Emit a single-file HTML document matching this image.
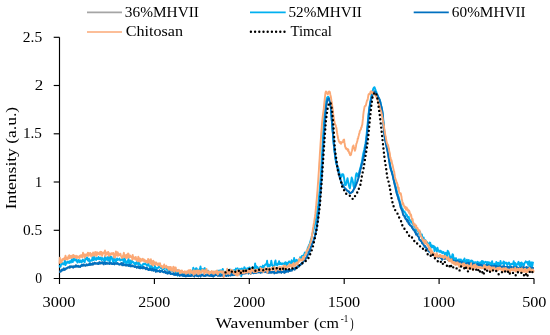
<!DOCTYPE html>
<html><head><meta charset="utf-8"><style>
html,body{margin:0;padding:0;background:#fff;}
svg{display:block;}
text{font-family:'Liberation Serif', 'DejaVu Serif', serif;font-size:15.6px;fill:#000;}
</style></head><body>
<svg width="550" height="335" viewBox="0 0 550 335">
<rect width="550" height="335" fill="#fff"/>
<!-- legend -->
<g stroke-width="1.7" fill="none">
<line x1="87" y1="12.4" x2="122" y2="12.4" stroke="#A5A5A5"/>
<line x1="250" y1="12.4" x2="285.7" y2="12.4" stroke="#00B0F0"/>
<line x1="413.7" y1="12.4" x2="448.8" y2="12.4" stroke="#0070C0"/>
<line x1="87" y1="32" x2="122" y2="32" stroke="#FBA976"/>
<line x1="250.9" y1="31.7" x2="285" y2="31.7" stroke="#000" stroke-width="2.4" stroke-linecap="round" stroke-dasharray="0 4.2"/>
</g>
<text x="124.86" y="17" textLength="74.05" lengthAdjust="spacingAndGlyphs">36%MHVII</text>
<text x="288.53" y="17" textLength="73.39" lengthAdjust="spacingAndGlyphs">52%MHVII</text>
<text x="451.87" y="17" textLength="73.85" lengthAdjust="spacingAndGlyphs">60%MHVII</text>
<text x="125.78" y="36.2" textLength="57.23" lengthAdjust="spacingAndGlyphs">Chitosan</text>
<text x="290.46" y="36.2" textLength="41.39" lengthAdjust="spacingAndGlyphs">Timcal</text>
<!-- axes -->
<g stroke="#000" stroke-width="1.15" fill="none">
<line x1="59.5" y1="37.3" x2="59.5" y2="284"/>
<line x1="53.7" y1="278.5" x2="534" y2="278.5"/>
<line x1="53.7" y1="37.3" x2="59.5" y2="37.3"/>
<line x1="53.7" y1="85.5" x2="59.5" y2="85.5"/>
<line x1="53.7" y1="133.8" x2="59.5" y2="133.8"/>
<line x1="53.7" y1="182" x2="59.5" y2="182"/>
<line x1="53.7" y1="230.3" x2="59.5" y2="230.3"/>
<line x1="154.4" y1="278.5" x2="154.4" y2="284"/>
<line x1="249.3" y1="278.5" x2="249.3" y2="284"/>
<line x1="344.2" y1="278.5" x2="344.2" y2="284"/>
<line x1="439.1" y1="278.5" x2="439.1" y2="284"/>
<line x1="534" y1="278.5" x2="534" y2="284"/>
</g>
<!-- series -->
<g fill="none" stroke-width="1.9" stroke-linejoin="round">
<path d="M59.5 271.4 59.9 271.8 60.2 271.4 60.6 271.3 60.9 271.5 61.3 270.0 61.6 270.1 62.0 269.6 62.3 270.0 62.7 270.4 63.0 269.7 63.4 269.8 63.7 268.5 64.1 269.4 64.4 268.7 64.8 269.9 65.1 269.3 65.5 269.2 65.8 268.5 66.2 268.7 66.5 268.6 66.9 268.0 67.2 267.8 67.6 267.9 67.9 267.5 68.3 267.4 68.6 267.4 69.0 267.1 69.3 267.7 69.7 266.4 70.0 267.5 70.4 266.7 70.7 266.7 71.1 266.3 71.4 266.8 71.8 266.7 72.1 266.9 72.5 266.5 72.8 266.7 73.2 267.6 73.5 266.8 73.9 266.3 74.2 267.0 74.6 266.4 74.9 266.7 75.3 266.7 75.6 266.2 76.0 265.3 76.3 266.1 76.7 266.5 77.0 266.0 77.4 266.4 77.7 266.6 78.1 265.8 78.4 266.6 78.8 266.8 79.1 266.5 79.5 266.5 79.8 266.4 80.2 266.9 80.5 265.9 80.9 265.7 81.2 266.0 81.6 265.2 81.9 264.8 82.3 265.1 82.6 265.7 83.0 265.7 83.3 264.7 83.7 264.5 84.0 265.2 84.4 265.2 84.7 265.2 85.1 265.6 85.4 265.8 85.8 265.2 86.1 265.4 86.5 264.5 86.8 264.4 87.2 265.0 87.5 265.2 87.9 265.2 88.2 265.0 88.6 265.1 88.9 265.0 89.3 263.7 89.6 264.2 90.0 264.7 90.3 264.7 90.7 263.6 91.0 264.9 91.4 264.0 91.7 264.1 92.1 264.3 92.4 264.5 92.8 263.3 93.1 264.5 93.5 263.9 93.8 263.5 94.2 263.7 94.5 262.6 94.9 263.3 95.2 263.7 95.6 263.2 95.9 263.3 96.3 263.4 96.6 263.4 97.0 263.8 97.3 263.2 97.7 263.1 98.0 263.4 98.4 264.1 98.7 262.9 99.1 263.2 99.4 262.1 99.8 263.5 100.1 263.2 100.5 263.5 100.8 262.8 101.2 262.4 101.5 263.4 101.9 263.3 102.2 262.5 102.6 262.2 102.9 263.2 103.3 263.0 103.6 264.4 104.0 262.8 104.3 262.9 104.7 263.1 105.0 262.3 105.4 262.8 105.7 264.1 106.1 263.2 106.4 263.0 106.8 262.7 107.1 263.6 107.5 263.7 107.8 263.5 108.2 263.3 108.5 263.6 108.9 263.7 109.2 263.2 109.6 263.9 109.9 262.5 110.3 263.0 110.6 263.5 111.0 263.6 111.3 263.0 111.7 263.8 112.0 264.1 112.4 263.8 112.7 263.7 113.1 264.0 113.4 263.8 113.8 263.1 114.1 263.5 114.5 264.3 114.8 263.1 115.2 263.7 115.5 263.5 115.9 263.3 116.2 263.2 116.6 263.8 116.9 263.9 117.3 263.9 117.6 263.1 118.0 263.7 118.3 264.1 118.7 264.4 119.0 264.3 119.4 264.4 119.7 264.6 120.1 264.4 120.4 263.7 120.8 264.1 121.1 263.8 121.5 263.0 121.8 263.4 122.2 265.3 122.5 263.8 122.9 263.3 123.2 264.1 123.6 265.2 123.9 264.5 124.3 264.8 124.6 264.5 125.0 264.7 125.3 265.4 125.7 265.2 126.0 264.8 126.4 265.4 126.7 265.5 127.1 265.0 127.4 265.3 127.8 265.3 128.1 264.9 128.5 265.9 128.8 265.3 129.2 265.1 129.5 264.7 129.9 264.9 130.2 266.4 130.6 265.1 130.9 266.0 131.3 265.6 131.6 266.1 132.0 266.3 132.3 265.6 132.7 265.9 133.0 266.2 133.4 266.3 133.7 266.3 134.1 266.2 134.4 266.7 134.8 267.1 135.1 266.8 135.5 266.2 135.8 266.8 136.2 266.7 136.5 267.0 136.9 267.7 137.2 266.8 137.6 266.9 137.9 266.6 138.3 266.9 138.6 266.9 139.0 268.0 139.3 267.4 139.7 267.0 140.0 268.4 140.4 266.8 140.7 268.0 141.1 268.1 141.4 267.9 141.8 267.6 142.1 267.7 142.5 267.7 142.8 268.3 143.2 266.8 143.5 267.8 143.9 268.2 144.2 267.9 144.6 267.4 144.9 268.2 145.3 268.0 145.6 268.9 146.0 269.2 146.3 268.6 146.7 267.7 147.0 268.6 147.4 268.3 147.7 269.2 148.1 269.8 148.4 269.2 148.8 270.1 149.1 269.9 149.5 269.5 149.8 268.8 150.2 269.4 150.5 268.7 150.9 270.0 151.2 269.6 151.6 270.3 151.9 269.9 152.3 268.8 152.6 270.2 153.0 270.4 153.3 270.8 153.7 269.5 154.0 269.6 154.4 270.2 154.7 269.7 155.1 269.6 155.4 269.8 155.8 271.7 156.1 270.1 156.5 270.0 156.8 270.3 157.2 270.6 157.5 271.3 157.9 271.2 158.2 271.2 158.6 270.9 158.9 271.0 159.3 270.6 159.6 270.3 160.0 272.1 160.3 270.9 160.7 271.7 161.0 271.1 161.4 271.3 161.7 271.3 162.1 270.8 162.4 271.5 162.8 271.8 163.1 272.1 163.5 272.0 163.8 272.3 164.2 272.0 164.5 271.9 164.9 271.0 165.2 271.8 165.6 272.9 165.9 272.3 166.3 272.7 166.6 272.3 167.0 272.1 167.3 273.6 167.7 272.8 168.0 273.5 168.4 273.1 168.7 272.8 169.1 271.9 169.4 273.1 169.8 272.4 170.1 272.2 170.5 274.0 170.8 273.8 171.2 273.9 171.5 273.6 171.9 273.7 172.2 274.0 172.6 273.9 172.9 274.0 173.3 274.4 173.6 272.9 174.0 274.6 174.3 273.9 174.7 274.7 175.0 274.9 175.4 274.0 175.7 274.8 176.1 274.9 176.4 274.2 176.8 274.3 177.1 274.7 177.5 273.6 177.8 274.5 178.2 274.9 178.5 274.6 178.9 274.1 179.2 274.7 179.6 275.7 179.9 275.7 180.3 275.0 180.6 274.7 181.0 275.1 181.3 275.2 181.7 274.9 182.0 275.1 182.4 275.6 182.7 275.8 183.1 274.1 183.4 275.9 183.8 275.5 184.1 276.0 184.5 275.5 184.8 275.7 185.2 276.3 185.5 274.0 185.9 276.3 186.2 275.6 186.6 274.6 186.9 274.2 187.3 275.7 187.6 275.1 188.0 276.1 188.3 275.7 188.7 275.5 189.0 276.1 189.4 275.7 189.7 276.0 190.1 276.0 190.4 275.8 190.8 276.0 191.1 276.0 191.5 274.9 191.8 275.5 192.2 275.6 192.5 275.4 192.9 274.8 193.2 275.3 193.6 275.8 193.9 275.7 194.3 276.4 194.6 275.3 195.0 275.4 195.3 275.3 195.7 275.4 196.0 275.2 196.4 274.6 196.7 275.7 197.1 276.0 197.4 276.0 197.8 274.9 198.1 275.3 198.5 276.3 198.8 275.3 199.2 275.5 199.5 275.2 199.9 275.8 200.2 275.8 200.6 276.4 200.9 275.5 201.3 275.5 201.6 274.6 202.0 275.0 202.3 274.9 202.7 275.1 203.0 274.6 203.4 275.9 203.7 274.7 204.1 275.4 204.4 274.6 204.8 275.4 205.1 276.1 205.5 274.9 205.8 275.5 206.2 275.3 206.5 275.4 206.9 275.5 207.2 275.0 207.6 275.2 207.9 275.0 208.3 274.9 208.6 274.7 209.0 275.8 209.3 275.0 209.7 275.7 210.0 275.6 210.4 274.9 210.7 275.9 211.1 275.0 211.4 275.7 211.8 276.1 212.1 275.1 212.5 275.0 212.8 275.0 213.2 276.6 213.5 275.3 213.9 274.8 214.2 275.9 214.6 275.4 214.9 275.5 215.3 275.0 215.6 274.4 216.0 275.1 216.3 274.9 216.7 274.6 217.0 274.9 217.4 274.9 217.7 275.8 218.1 275.8 218.4 275.7 218.8 275.1 219.1 274.8 219.5 275.5 219.8 275.6 220.2 275.9 220.5 275.4 220.9 275.3 221.2 275.5 221.6 274.9 221.9 274.9 222.3 275.7 222.6 274.7 223.0 275.3 223.3 275.7 223.7 275.4 224.0 275.5 224.4 274.7 224.7 275.2 225.1 275.1 225.4 275.5 225.8 275.4 226.1 275.2 226.5 276.1 226.8 275.4 227.2 275.0 227.5 274.8 227.9 275.1 228.2 274.8 228.6 275.8 228.9 275.3 229.3 274.8 229.6 274.6 230.0 274.3 230.3 274.7 230.7 275.5 231.0 275.2 231.4 274.7 231.7 274.7 232.1 273.7 232.4 275.0 232.8 274.4 233.1 275.2 233.5 274.4 233.8 274.2 234.2 274.5 234.5 274.0 234.9 274.9 235.2 274.3 235.6 274.3 235.9 274.3 236.3 273.9 236.6 274.3 237.0 274.0 237.3 274.8 237.7 273.9 238.0 274.0 238.4 273.5 238.7 273.5 239.1 273.5 239.4 274.3 239.8 273.6 240.1 274.0 240.5 273.4 240.8 273.3 241.2 272.4 241.5 273.8 241.9 274.3 242.2 273.1 242.6 273.9 242.9 273.6 243.3 272.7 243.6 273.4 244.0 272.5 244.3 272.7 244.7 273.4 245.0 272.9 245.4 272.2 245.7 273.4 246.1 272.1 246.4 272.6 246.8 272.4 247.1 272.5 247.5 272.1 247.8 271.7 248.2 273.4 248.5 272.0 248.9 272.0 249.2 271.2 249.6 272.4 249.9 273.0 250.3 273.1 250.6 273.7 251.0 273.1 251.3 272.5 251.7 272.3 252.0 273.0 252.4 272.3 252.7 272.4 253.1 271.8 253.4 272.3 253.8 273.2 254.1 272.2 254.5 272.4 254.8 271.0 255.2 272.9 255.5 272.4 255.9 272.9 256.2 272.3 256.6 271.7 256.9 271.5 257.3 272.4 257.6 272.1 258.0 271.6 258.3 272.1 258.7 271.8 259.0 272.4 259.4 271.9 259.7 271.5 260.1 272.0 260.4 271.8 260.8 272.8 261.1 271.8 261.5 271.4 261.8 272.0 262.2 271.9 262.5 272.2 262.9 272.2 263.2 271.6 263.6 272.0 263.9 272.0 264.3 271.5 264.6 271.8 265.0 272.2 265.3 271.3 265.7 271.5 266.0 271.9 266.4 272.0 266.7 272.3 267.1 271.4 267.4 272.2 267.8 272.4 268.1 272.9 268.5 271.9 268.8 271.7 269.2 271.4 269.5 272.4 269.9 272.8 270.2 271.8 270.6 272.4 270.9 272.6 271.3 272.7 271.6 272.0 272.0 272.5 272.3 272.2 272.7 271.8 273.0 272.4 273.4 272.4 273.7 271.8 274.1 272.5 274.4 273.3 274.8 271.5 275.1 272.6 275.5 272.7 275.8 272.3 276.2 272.4 276.5 272.1 276.9 272.9 277.2 271.7 277.6 272.1 277.9 271.2 278.3 272.3 278.6 272.3 279.0 271.2 279.3 271.6 279.7 272.3 280.0 271.7 280.4 271.4 280.7 270.7 281.1 272.1 281.4 272.8 281.8 271.6 282.1 272.0 282.5 272.0 282.8 271.7 283.2 271.7 283.5 271.7 283.9 271.1 284.2 272.8 284.6 272.8 284.9 271.6 285.3 272.3 285.6 270.9 286.0 271.2 286.3 271.8 286.7 270.6 287.0 270.4 287.4 271.2 287.7 270.0 288.1 271.8 288.4 271.2 288.8 270.9 289.1 271.0 289.5 270.2 289.8 270.1 290.2 270.9 290.5 270.8 290.9 270.3 291.2 270.1 291.6 269.8 291.9 270.6 292.3 269.1 292.6 269.3 293.0 269.3 293.3 268.6 293.7 268.6 294.0 268.6 294.4 269.4 294.7 269.7 295.1 268.8 295.4 267.6 295.8 267.9 296.1 267.9 296.5 267.7 296.8 267.4 297.2 267.7 297.5 266.2 297.9 266.6 298.2 266.8 298.6 266.7 298.9 266.2 299.3 265.8 299.6 265.4 300.0 264.8 300.3 264.8 300.7 264.3 301.0 263.7 301.4 264.3 301.7 263.9 302.1 262.8 302.4 262.9 302.8 262.8 303.1 261.9 303.5 261.4 303.8 261.1 304.2 259.6 304.5 259.2 304.9 259.7 305.2 259.1 305.6 259.1 305.9 257.7 306.3 257.9 306.6 257.4 307.0 257.3 307.3 255.3 307.7 254.9 308.0 254.6 308.4 253.9 308.7 252.5 309.1 252.0 309.4 250.7 309.8 251.6 310.1 249.4 310.5 248.4 310.8 247.2 311.2 246.4 311.5 245.6 311.9 244.3 312.2 243.5 312.6 243.2 312.9 242.0 313.3 241.0 313.6 239.9 314.0 239.1 314.3 237.8 314.7 236.9 315.0 235.3 315.4 233.8 315.7 232.3 316.1 230.3 316.4 228.7 316.8 227.0 317.1 223.8 317.5 220.8 317.8 218.6 318.2 215.4 318.5 213.0 318.9 209.4 319.2 206.2 319.6 202.2 319.9 198.3 320.3 194.8 320.6 190.9 321.0 186.0 321.3 181.0 321.7 175.8 322.0 169.3 322.4 162.3 322.7 155.4 323.1 149.7 323.4 143.4 323.8 137.6 324.1 132.1 324.5 127.5 324.8 122.1 325.2 118.5 325.5 113.6 325.9 109.1 326.2 106.0 326.6 103.7 326.9 102.4 327.3 100.3 327.6 99.6 328.0 98.8 328.3 98.7 328.7 98.4 329.0 99.0 329.4 100.5 329.7 101.2 330.1 101.8 330.4 104.1 330.8 106.5 331.1 109.9 331.5 114.6 331.8 120.2 332.2 124.2 332.5 128.7 332.9 132.9 333.2 136.6 333.6 140.6 333.9 144.7 334.3 147.4 334.6 150.9 335.0 153.5 335.3 156.3 335.7 158.7 336.0 160.9 336.4 162.7 336.7 164.6 337.1 166.0 337.4 167.5 337.8 169.4 338.1 170.4 338.5 172.3 338.8 173.8 339.2 174.8 339.5 176.6 339.9 177.6 340.2 179.1 340.6 179.9 340.9 181.2 341.3 182.0 341.6 182.5 342.0 184.0 342.3 184.5 342.7 184.5 343.0 185.6 343.4 186.0 343.7 187.1 344.1 187.1 344.4 187.7 344.8 188.1 345.1 188.7 345.5 188.8 345.8 189.1 346.2 189.5 346.5 189.9 346.9 190.5 347.2 190.6 347.6 190.8 347.9 191.1 348.3 191.2 348.6 191.8 349.0 191.6 349.3 192.3 349.7 193.0 350.0 192.8 350.4 192.9 350.7 193.1 351.1 192.7 351.4 192.5 351.8 192.4 352.1 191.7 352.5 191.9 352.8 191.1 353.2 190.5 353.5 189.8 353.9 189.2 354.2 188.1 354.6 188.0 354.9 187.5 355.3 186.7 355.6 185.6 356.0 184.9 356.3 184.0 356.7 182.9 357.0 182.1 357.4 181.3 357.7 180.3 358.1 179.1 358.4 178.0 358.8 176.8 359.1 174.9 359.5 173.9 359.8 172.4 360.2 170.4 360.5 169.1 360.9 168.4 361.2 166.5 361.6 165.4 361.9 163.6 362.3 162.7 362.6 161.2 363.0 159.5 363.3 158.3 363.7 157.1 364.0 155.6 364.4 153.3 364.7 151.2 365.1 149.0 365.4 147.3 365.8 145.0 366.1 142.3 366.5 139.6 366.8 136.7 367.2 133.2 367.5 129.5 367.9 125.2 368.2 121.3 368.6 117.4 368.9 112.9 369.3 110.5 369.6 107.5 370.0 105.2 370.3 103.4 370.7 101.8 371.0 99.8 371.4 98.6 371.7 97.2 372.1 96.4 372.4 94.9 372.8 94.1 373.1 93.0 373.5 92.4 373.8 92.1 374.2 91.5 374.5 91.4 374.9 91.6 375.2 92.1 375.6 92.1 375.9 93.0 376.3 93.7 376.6 93.9 377.0 94.3 377.3 95.1 377.7 96.3 378.0 96.6 378.4 97.7 378.7 98.0 379.1 99.2 379.4 99.4 379.8 100.7 380.1 101.8 380.5 103.5 380.8 104.5 381.2 106.2 381.5 107.4 381.9 109.1 382.2 111.3 382.6 113.8 382.9 117.8 383.3 122.8 383.6 126.5 384.0 130.9 384.3 133.8 384.7 137.1 385.0 139.5 385.4 140.9 385.7 142.7 386.1 144.3 386.4 146.2 386.8 147.9 387.1 149.1 387.5 151.0 387.8 152.4 388.2 154.6 388.5 156.7 388.9 159.2 389.2 161.0 389.6 163.4 389.9 165.6 390.3 167.2 390.6 168.6 391.0 169.9 391.3 170.8 391.7 171.9 392.0 173.5 392.4 174.6 392.7 175.6 393.1 177.3 393.4 179.0 393.8 180.6 394.1 182.1 394.5 183.7 394.8 184.9 395.2 186.4 395.5 187.9 395.9 189.8 396.2 191.2 396.6 192.9 396.9 194.1 397.3 195.0 397.6 196.0 398.0 197.2 398.3 198.5 398.7 199.9 399.0 200.5 399.4 201.5 399.7 203.1 400.1 204.8 400.4 206.1 400.8 207.8 401.1 208.1 401.5 209.0 401.8 210.1 402.2 210.5 402.5 211.8 402.9 213.6 403.2 214.9 403.6 215.2 403.9 215.5 404.3 215.9 404.6 216.9 405.0 216.5 405.3 218.3 405.7 219.0 406.0 219.1 406.4 219.7 406.7 219.3 407.1 221.1 407.4 221.6 407.8 220.3 408.1 221.8 408.5 222.7 408.8 223.9 409.2 223.1 409.5 224.0 409.9 225.2 410.2 225.2 410.6 225.3 410.9 225.6 411.3 226.3 411.6 226.4 412.0 227.7 412.3 227.2 412.7 228.4 413.0 229.1 413.4 229.7 413.7 229.6 414.1 230.1 414.4 230.8 414.8 231.1 415.1 232.2 415.5 232.1 415.8 233.6 416.2 234.6 416.5 233.4 416.9 234.5 417.2 234.3 417.6 235.8 417.9 236.2 418.3 236.5 418.6 236.7 419.0 237.9 419.3 239.6 419.7 240.0 420.0 240.0 420.4 240.1 420.7 240.9 421.1 241.1 421.4 241.3 421.8 242.0 422.1 243.3 422.5 243.6 422.8 243.9 423.2 243.7 423.5 244.0 423.9 245.6 424.2 245.3 424.6 246.4 424.9 245.9 425.3 247.1 425.6 247.2 426.0 247.2 426.3 247.6 426.7 249.2 427.0 249.1 427.4 248.9 427.7 249.6 428.1 249.1 428.4 251.1 428.8 251.3 429.1 250.7 429.5 251.5 429.8 250.2 430.2 252.4 430.5 252.4 430.9 252.6 431.2 253.2 431.6 253.2 431.9 252.8 432.3 253.2 432.6 253.7 433.0 254.4 433.3 254.2 433.7 254.1 434.0 254.8 434.4 254.2 434.7 256.0 435.1 255.3 435.4 254.9 435.8 255.6 436.1 256.3 436.5 256.2 436.8 257.1 437.2 255.5 437.5 257.2 437.9 256.5 438.2 257.1 438.6 257.7 438.9 256.3 439.3 256.3 439.6 257.0 440.0 256.4 440.3 256.4 440.7 257.5 441.0 258.2 441.4 257.4 441.7 258.0 442.1 259.7 442.4 258.1 442.8 257.9 443.1 258.0 443.5 258.4 443.8 258.1 444.2 258.6 444.5 258.5 444.9 258.9 445.2 258.6 445.6 258.5 445.9 258.2 446.3 258.0 446.6 258.6 447.0 258.6 447.3 259.0 447.7 258.9 448.0 258.8 448.4 260.3 448.7 259.4 449.1 259.9 449.4 258.8 449.8 259.9 450.1 260.1 450.5 259.9 450.8 259.3 451.2 260.5 451.5 259.6 451.9 259.3 452.2 259.4 452.6 260.3 452.9 260.2 453.3 261.0 453.6 261.0 454.0 261.5 454.3 261.1 454.7 261.1 455.0 261.2 455.4 260.9 455.7 261.0 456.1 261.2 456.4 261.8 456.8 261.4 457.1 261.9 457.5 262.6 457.8 261.0 458.2 261.8 458.5 261.9 458.9 262.4 459.2 261.8 459.6 262.3 459.9 263.8 460.3 262.0 460.6 262.8 461.0 263.0 461.3 262.8 461.7 262.4 462.0 263.5 462.4 262.1 462.7 262.6 463.1 263.0 463.4 262.9 463.8 263.8 464.1 263.1 464.5 264.3 464.8 263.4 465.2 264.2 465.5 263.7 465.9 263.4 466.2 263.4 466.6 264.1 466.9 263.3 467.3 263.6 467.6 263.3 468.0 262.7 468.3 264.0 468.7 264.1 469.0 263.2 469.4 264.1 469.7 263.8 470.1 263.0 470.4 263.5 470.8 264.4 471.1 264.6 471.5 264.3 471.8 265.6 472.2 264.4 472.5 263.9 472.9 263.6 473.2 265.1 473.6 264.2 473.9 264.3 474.3 264.1 474.6 264.1 475.0 264.4 475.3 264.9 475.7 265.0 476.0 264.9 476.4 265.3 476.7 264.6 477.1 264.4 477.4 264.9 477.8 263.9 478.1 265.4 478.5 265.3 478.8 265.3 479.2 264.6 479.5 264.9 479.9 265.2 480.2 264.7 480.6 264.7 480.9 265.2 481.3 265.4 481.6 265.0 482.0 265.9 482.3 266.5 482.7 265.7 483.0 265.4 483.4 265.3 483.7 266.3 484.1 265.7 484.4 265.9 484.8 265.7 485.1 265.3 485.5 266.4 485.8 265.6 486.2 265.8 486.5 264.7 486.9 266.8 487.2 266.2 487.6 265.8 487.9 265.4 488.3 265.5 488.6 265.0 489.0 266.1 489.3 265.5 489.7 266.2 490.0 266.2 490.4 267.0 490.7 266.1 491.1 266.2 491.4 266.3 491.8 265.8 492.1 266.0 492.5 266.3 492.8 266.8 493.2 266.6 493.5 266.1 493.9 266.9 494.2 266.1 494.6 265.6 494.9 267.1 495.3 266.4 495.6 266.2 496.0 265.8 496.3 266.2 496.7 267.3 497.0 266.5 497.4 267.7 497.7 266.6 498.1 267.2 498.4 266.7 498.8 266.4 499.1 266.5 499.5 266.6 499.8 266.1 500.2 266.1 500.5 267.0 500.9 267.4 501.2 266.9 501.6 266.9 501.9 266.4 502.3 267.5 502.6 267.5 503.0 266.4 503.3 267.0 503.7 266.9 504.0 266.3 504.4 267.9 504.7 267.7 505.1 267.3 505.4 267.9 505.8 266.9 506.1 267.3 506.5 267.9 506.8 267.1 507.2 267.4 507.5 266.8 507.9 267.6 508.2 267.9 508.6 266.9 508.9 267.0 509.3 267.4 509.6 268.1 510.0 267.2 510.3 267.1 510.7 267.5 511.0 268.1 511.4 266.8 511.7 267.5 512.1 268.3 512.4 267.6 512.8 267.5 513.1 268.1 513.5 267.1 513.8 268.8 514.2 268.0 514.5 267.6 514.9 267.9 515.2 267.8 515.6 267.7 515.9 267.3 516.3 267.8 516.6 267.1 517.0 268.6 517.3 267.4 517.7 267.6 518.0 267.6 518.4 268.3 518.7 267.9 519.1 268.7 519.4 267.8 519.8 268.1 520.1 268.0 520.5 267.8 520.8 268.6 521.2 268.6 521.5 268.7 521.9 267.3 522.2 268.2 522.6 267.4 522.9 267.4 523.3 267.1 523.6 267.5 524.0 268.3 524.3 268.7 524.7 268.9 525.0 267.5 525.4 267.7 525.7 268.1 526.1 268.1 526.4 268.1 526.8 267.1 527.1 267.9 527.5 268.3 527.8 268.1 528.2 267.9 528.5 267.6 528.9 268.0 529.2 268.8 529.6 268.3 529.9 268.5 530.3 268.8 530.6 267.5 531.0 268.3 531.3 268.2 531.7 268.7 532.0 267.9 532.4 267.9 532.7 267.7 533.1 268.1 533.4 267.9 533.8 267.9" stroke="#A5A5A5"/>
<path d="M59.5 265.1 60.1 266.9 60.7 266.4 61.3 263.4 61.9 263.5 62.5 262.9 63.1 264.4 63.7 263.2 64.3 264.2 64.9 259.9 65.5 265.1 66.1 262.3 66.7 263.4 67.3 261.9 67.9 261.4 68.5 262.6 69.1 263.1 69.7 261.3 70.3 261.3 70.9 262.6 71.5 260.1 72.1 259.0 72.7 262.1 73.3 260.3 73.9 258.3 74.5 260.0 75.1 260.6 75.7 259.4 76.3 258.9 76.9 261.3 77.5 262.6 78.1 260.8 78.7 259.9 79.3 261.7 79.9 262.2 80.5 260.5 81.1 261.8 81.7 262.5 82.3 260.5 82.9 259.5 83.5 261.3 84.1 261.0 84.7 262.3 85.3 258.4 85.9 259.3 86.5 258.9 87.1 257.3 87.7 260.2 88.3 260.7 88.9 258.6 89.5 261.9 90.1 260.9 90.7 260.5 91.3 260.0 91.9 260.8 92.5 257.1 93.1 260.1 93.7 260.0 94.3 256.1 94.9 259.4 95.5 258.4 96.1 260.0 96.7 257.9 97.3 258.5 97.9 259.0 98.5 257.0 99.1 259.3 99.7 258.1 100.3 259.0 100.9 257.4 101.5 260.1 102.1 259.3 102.7 258.1 103.3 259.5 103.9 260.5 104.5 261.4 105.1 256.1 105.7 260.1 106.3 259.4 106.9 258.6 107.5 257.2 108.1 260.9 108.7 256.9 109.3 259.9 109.9 261.2 110.5 256.5 111.1 258.6 111.7 257.1 112.3 259.6 112.9 261.6 113.5 262.5 114.1 256.4 114.7 258.4 115.3 260.5 115.9 262.0 116.5 260.2 117.1 258.4 117.7 260.1 118.3 259.6 118.9 259.4 119.5 258.6 120.1 260.5 120.7 260.4 121.3 259.8 121.9 259.7 122.5 258.1 123.1 259.5 123.7 262.3 124.3 260.2 124.9 258.3 125.5 262.8 126.1 261.7 126.7 264.3 127.3 261.2 127.9 260.5 128.5 259.1 129.1 263.6 129.7 265.8 130.3 260.5 130.9 260.9 131.5 263.1 132.1 260.9 132.7 262.0 133.3 262.0 133.9 263.0 134.5 264.5 135.1 263.0 135.7 264.5 136.3 262.5 136.9 263.8 137.5 260.0 138.1 261.3 138.7 265.0 139.3 262.9 139.9 264.9 140.5 265.0 141.1 266.3 141.7 265.6 142.3 266.1 142.9 264.4 143.5 263.6 144.1 263.7 144.7 264.2 145.3 263.3 145.9 264.3 146.5 265.2 147.1 265.8 147.7 265.0 148.3 262.6 148.9 265.7 149.5 266.3 150.1 267.8 150.7 267.1 151.3 265.2 151.9 265.2 152.5 269.7 153.1 267.8 153.7 269.6 154.3 270.2 154.9 265.6 155.5 267.6 156.1 267.8 156.7 268.1 157.3 268.2 157.9 267.7 158.5 267.8 159.1 265.2 159.7 267.4 160.3 266.6 160.9 268.1 161.5 267.3 162.1 269.1 162.7 269.6 163.3 268.9 163.9 269.0 164.5 268.7 165.1 268.0 165.7 268.6 166.3 268.2 166.9 269.8 167.5 269.3 168.1 270.4 168.7 267.5 169.3 271.2 169.9 268.7 170.5 269.0 171.1 270.1 171.7 269.8 172.3 271.4 172.9 270.3 173.5 269.7 174.1 270.3 174.7 273.9 175.3 272.1 175.9 270.4 176.5 272.4 177.1 270.1 177.7 275.7 178.3 270.5 178.9 273.9 179.5 274.1 180.1 271.0 180.7 273.9 181.3 275.1 181.9 274.4 182.5 274.1 183.1 275.3 183.7 274.1 184.3 274.4 184.9 273.7 185.5 275.0 186.1 272.4 186.7 275.0 187.3 272.7 187.9 271.6 188.5 273.7 189.1 275.6 189.7 274.2 190.3 271.6 190.9 273.2 191.5 271.1 192.1 271.4 192.7 271.6 193.3 267.7 193.9 271.5 194.5 269.5 195.1 269.9 195.7 268.5 196.3 268.2 196.9 268.9 197.5 271.4 198.1 272.6 198.7 269.7 199.3 271.3 199.9 269.1 200.5 266.5 201.1 269.8 201.7 270.4 202.3 269.1 202.9 270.4 203.5 271.0 204.1 268.8 204.7 268.0 205.3 270.2 205.9 270.3 206.5 270.3 207.1 272.6 207.7 274.0 208.3 270.7 208.9 272.7 209.5 273.2 210.1 273.0 210.7 273.7 211.3 271.6 211.9 273.5 212.5 275.7 213.1 273.9 213.7 271.7 214.3 273.7 214.9 274.8 215.5 273.4 216.1 271.8 216.7 275.2 217.3 270.6 217.9 273.4 218.5 272.5 219.1 270.5 219.7 274.3 220.3 272.8 220.9 270.3 221.5 273.1 222.1 271.3 222.7 268.9 223.3 270.8 223.9 272.2 224.5 272.7 225.1 271.9 225.7 271.7 226.3 272.3 226.9 271.1 227.5 273.3 228.1 271.6 228.7 271.8 229.3 272.1 229.9 269.5 230.5 270.0 231.1 273.6 231.7 271.7 232.3 270.6 232.9 271.6 233.5 270.3 234.1 271.5 234.7 269.9 235.3 271.4 235.9 268.4 236.5 273.0 237.1 270.0 237.7 268.3 238.3 270.4 238.9 270.1 239.5 270.9 240.1 268.8 240.7 271.2 241.3 276.3 241.9 268.4 242.5 270.8 243.1 269.7 243.7 270.4 244.3 267.1 244.9 268.0 245.5 270.4 246.1 269.5 246.7 272.1 247.3 268.2 247.9 269.5 248.5 273.7 249.1 267.7 249.7 267.4 250.3 268.7 250.9 268.6 251.5 269.9 252.1 268.6 252.7 267.1 253.3 268.5 253.9 272.3 254.5 270.0 255.1 263.4 255.7 267.5 256.3 266.2 256.9 268.5 257.5 267.1 258.1 270.4 258.7 268.7 259.3 268.5 259.9 267.3 260.5 266.7 261.1 267.2 261.7 268.6 262.3 267.2 262.9 265.6 263.5 268.1 264.1 266.2 264.7 265.6 265.3 264.4 265.9 264.6 266.5 264.4 267.1 260.8 267.7 266.8 268.3 266.0 268.9 264.6 269.5 266.6 270.1 265.5 270.7 265.3 271.3 260.6 271.9 264.1 272.5 265.3 273.1 266.9 273.7 267.2 274.3 266.4 274.9 262.2 275.5 260.5 276.1 264.9 276.7 263.9 277.3 265.4 277.9 263.6 278.5 264.1 279.1 261.3 279.7 264.3 280.3 262.9 280.9 264.1 281.5 264.3 282.1 263.3 282.7 264.0 283.3 263.4 283.9 264.6 284.5 264.1 285.1 262.4 285.7 262.3 286.3 265.9 286.9 262.9 287.5 264.5 288.1 263.5 288.7 261.8 289.3 261.4 289.9 262.7 290.5 262.9 291.1 263.4 291.7 260.3 292.3 261.2 292.9 261.9 293.5 264.5 294.1 258.0 294.7 262.2 295.3 260.3 295.9 261.6 296.5 259.8 297.1 260.9 297.7 262.5 298.3 260.2 298.9 260.0 299.5 259.5 300.1 257.3 300.7 259.0 301.3 257.4 301.9 255.9 302.5 256.5 303.1 255.4 303.7 256.1 304.3 254.0 304.9 252.4 305.5 254.6 306.1 252.8 306.7 252.1 307.3 249.9 307.9 247.5 308.5 246.3 309.1 245.0 309.7 243.8 310.3 241.9 310.9 239.5 311.5 237.7 312.1 235.0 312.7 233.2 313.3 230.7 313.9 228.5 314.5 226.5 315.1 224.0 315.7 220.7 316.3 218.0 316.9 214.7 317.5 209.6 318.1 205.7 318.7 199.8 319.3 193.8 319.9 187.3 320.5 179.6 321.1 171.4 321.7 160.8 322.3 149.8 322.9 138.8 323.5 127.3 324.1 118.7 324.7 112.2 325.3 106.1 325.9 102.0 326.5 99.0 327.1 97.7 327.7 96.9 328.3 96.7 328.9 98.0 329.5 100.1 330.1 102.6 330.7 106.7 331.3 113.9 331.9 121.6 332.5 128.9 333.1 136.6 333.7 144.1 334.3 149.5 334.9 155.0 335.5 159.0 336.1 163.0 336.7 164.8 337.3 166.5 337.9 168.0 338.5 168.4 339.1 171.9 339.7 174.3 340.3 175.3 340.9 177.3 341.5 176.8 342.1 174.2 342.7 174.1 343.3 174.5 343.9 177.0 344.5 181.0 345.1 185.1 345.7 185.1 346.3 183.5 346.9 180.6 347.5 178.1 348.1 181.4 348.7 184.4 349.3 186.8 349.9 188.3 350.5 184.9 351.1 181.2 351.7 177.5 352.3 179.2 352.9 181.7 353.5 186.1 354.1 187.4 354.7 185.1 355.3 180.7 355.9 175.2 356.5 173.2 357.1 173.8 357.7 176.3 358.3 176.0 358.9 173.3 359.5 171.1 360.1 168.6 360.7 166.6 361.3 164.2 361.9 161.6 362.5 157.9 363.1 154.3 363.7 151.8 364.3 149.2 364.9 146.3 365.5 143.4 366.1 139.2 366.7 133.6 367.3 127.2 367.9 120.9 368.5 114.9 369.1 109.3 369.7 105.7 370.3 101.6 370.9 98.5 371.5 94.9 372.1 92.4 372.7 90.5 373.3 88.6 373.9 87.5 374.5 87.2 375.1 88.8 375.7 90.3 376.3 91.7 376.9 93.8 377.5 95.0 378.1 96.4 378.7 97.8 379.3 98.9 379.9 100.5 380.5 102.4 381.1 105.1 381.7 107.6 382.3 110.6 382.9 115.1 383.5 121.8 384.1 128.5 384.7 134.6 385.3 139.0 385.9 142.5 386.5 145.6 387.1 148.1 387.7 150.8 388.3 153.9 388.9 157.6 389.5 161.6 390.1 164.6 390.7 167.7 391.3 170.2 391.9 171.6 392.5 173.5 393.1 176.0 393.7 178.7 394.3 181.2 394.9 183.6 395.5 186.1 396.1 187.9 396.7 190.4 397.3 192.9 397.9 194.9 398.5 196.4 399.1 198.7 399.7 200.9 400.3 203.3 400.9 204.3 401.5 206.7 402.1 209.0 402.7 208.9 403.3 211.0 403.9 211.4 404.5 211.4 405.1 213.0 405.7 213.4 406.3 215.5 406.9 214.9 407.5 217.4 408.1 217.7 408.7 216.8 409.3 219.6 409.9 221.0 410.5 220.2 411.1 222.3 411.7 221.2 412.3 223.6 412.9 223.3 413.5 225.8 414.1 225.2 414.7 225.5 415.3 228.5 415.9 230.7 416.5 229.4 417.1 231.0 417.7 231.2 418.3 231.6 418.9 232.9 419.5 234.3 420.1 232.0 420.7 235.8 421.3 236.4 421.9 234.5 422.5 240.3 423.1 241.5 423.7 237.5 424.3 242.4 424.9 240.2 425.5 240.3 426.1 243.4 426.7 241.9 427.3 242.5 427.9 245.0 428.5 245.3 429.1 245.4 429.7 242.5 430.3 242.9 430.9 247.9 431.5 245.1 432.1 247.3 432.7 245.7 433.3 247.5 433.9 246.1 434.5 251.1 435.1 247.1 435.7 248.9 436.3 249.1 436.9 251.7 437.5 247.8 438.1 250.3 438.7 250.3 439.3 251.8 439.9 251.9 440.5 250.7 441.1 252.2 441.7 251.5 442.3 253.2 442.9 252.6 443.5 251.9 444.1 253.1 444.7 253.9 445.3 257.0 445.9 252.7 446.5 254.1 447.1 256.1 447.7 250.7 448.3 251.6 448.9 252.9 449.5 255.0 450.1 259.6 450.7 256.8 451.3 258.8 451.9 257.1 452.5 254.1 453.1 254.9 453.7 260.8 454.3 260.0 454.9 258.1 455.5 262.3 456.1 258.3 456.7 262.7 457.3 263.3 457.9 259.9 458.5 259.4 459.1 262.6 459.7 259.5 460.3 262.7 460.9 259.4 461.5 262.7 462.1 261.6 462.7 260.8 463.3 260.1 463.9 261.9 464.5 258.5 465.1 261.1 465.7 261.0 466.3 262.7 466.9 259.6 467.5 264.4 468.1 261.2 468.7 259.9 469.3 264.0 469.9 264.5 470.5 261.5 471.1 260.4 471.7 261.9 472.3 260.8 472.9 261.5 473.5 264.5 474.1 262.7 474.7 262.3 475.3 262.7 475.9 262.1 476.5 263.6 477.1 263.7 477.7 261.7 478.3 262.5 478.9 266.3 479.5 263.1 480.1 262.2 480.7 265.8 481.3 262.6 481.9 260.9 482.5 263.8 483.1 261.3 483.7 262.0 484.3 263.4 484.9 262.7 485.5 261.7 486.1 262.1 486.7 262.1 487.3 265.0 487.9 262.0 488.5 262.3 489.1 266.5 489.7 262.4 490.3 265.7 490.9 265.5 491.5 263.2 492.1 261.2 492.7 264.2 493.3 264.6 493.9 265.1 494.5 263.7 495.1 265.5 495.7 265.8 496.3 261.9 496.9 265.9 497.5 263.9 498.1 262.7 498.7 263.2 499.3 266.7 499.9 265.3 500.5 260.9 501.1 263.9 501.7 263.5 502.3 263.5 502.9 263.0 503.5 261.5 504.1 265.2 504.7 262.3 505.3 263.2 505.9 262.9 506.5 262.7 507.1 265.1 507.7 264.5 508.3 262.9 508.9 262.4 509.5 263.2 510.1 265.6 510.7 264.2 511.3 264.4 511.9 263.6 512.5 263.7 513.1 264.5 513.7 261.2 514.3 266.8 514.9 262.9 515.5 263.3 516.1 266.4 516.7 264.6 517.3 264.3 517.9 263.4 518.5 261.8 519.1 264.6 519.7 266.2 520.3 262.9 520.9 266.5 521.5 262.5 522.1 263.1 522.7 265.1 523.3 264.3 523.9 265.4 524.5 263.1 525.1 262.6 525.7 261.3 526.3 262.4 526.9 262.6 527.5 262.0 528.1 264.8 528.7 263.2 529.3 261.1 529.9 268.3 530.5 263.0 531.1 262.3 531.7 266.3 532.3 266.2 532.9 262.5 533.5 261.9" stroke="#00B0F0"/>
<path d="M59.5 271.4 59.9 271.8 60.2 271.4 60.6 271.3 60.9 271.5 61.3 270.0 61.6 270.1 62.0 269.6 62.3 270.0 62.7 270.4 63.0 269.7 63.4 269.8 63.7 268.5 64.1 269.4 64.4 268.7 64.8 269.9 65.1 269.3 65.5 269.2 65.8 268.5 66.2 268.7 66.5 268.6 66.9 268.0 67.2 267.8 67.6 267.9 67.9 267.5 68.3 267.4 68.6 267.4 69.0 267.1 69.3 267.7 69.7 266.4 70.0 267.5 70.4 266.7 70.7 266.7 71.1 266.3 71.4 266.8 71.8 266.7 72.1 266.9 72.5 266.5 72.8 266.7 73.2 267.6 73.5 266.8 73.9 266.3 74.2 267.0 74.6 266.4 74.9 266.7 75.3 266.7 75.6 266.2 76.0 265.3 76.3 266.1 76.7 266.5 77.0 266.0 77.4 266.4 77.7 266.6 78.1 265.8 78.4 266.6 78.8 266.8 79.1 266.5 79.5 266.5 79.8 266.4 80.2 266.9 80.5 265.9 80.9 265.7 81.2 266.0 81.6 265.2 81.9 264.8 82.3 265.1 82.6 265.7 83.0 265.7 83.3 264.7 83.7 264.5 84.0 265.2 84.4 265.2 84.7 265.2 85.1 265.6 85.4 265.8 85.8 265.2 86.1 265.4 86.5 264.5 86.8 264.4 87.2 265.0 87.5 265.2 87.9 265.2 88.2 265.0 88.6 265.1 88.9 265.0 89.3 263.7 89.6 264.2 90.0 264.7 90.3 264.7 90.7 263.6 91.0 264.9 91.4 264.0 91.7 264.1 92.1 264.3 92.4 264.5 92.8 263.3 93.1 264.5 93.5 263.9 93.8 263.5 94.2 263.7 94.5 262.6 94.9 263.3 95.2 263.7 95.6 263.2 95.9 263.3 96.3 263.4 96.6 263.4 97.0 263.8 97.3 263.2 97.7 263.1 98.0 263.4 98.4 264.1 98.7 262.9 99.1 263.2 99.4 262.1 99.8 263.5 100.1 263.2 100.5 263.5 100.8 262.8 101.2 262.4 101.5 263.4 101.9 263.3 102.2 262.5 102.6 262.2 102.9 263.2 103.3 263.0 103.6 264.4 104.0 262.8 104.3 262.9 104.7 263.1 105.0 262.3 105.4 262.8 105.7 264.1 106.1 263.2 106.4 263.0 106.8 262.7 107.1 263.6 107.5 263.7 107.8 263.5 108.2 263.3 108.5 263.6 108.9 263.7 109.2 263.2 109.6 263.9 109.9 262.5 110.3 263.0 110.6 263.5 111.0 263.6 111.3 263.0 111.7 263.8 112.0 264.1 112.4 263.8 112.7 263.7 113.1 264.0 113.4 263.8 113.8 263.1 114.1 263.5 114.5 264.3 114.8 263.1 115.2 263.7 115.5 263.5 115.9 263.3 116.2 263.2 116.6 263.8 116.9 263.9 117.3 263.9 117.6 263.1 118.0 263.7 118.3 264.1 118.7 264.4 119.0 264.3 119.4 264.4 119.7 264.6 120.1 264.4 120.4 263.7 120.8 264.1 121.1 263.8 121.5 263.0 121.8 263.4 122.2 265.3 122.5 263.8 122.9 263.3 123.2 264.1 123.6 265.2 123.9 264.5 124.3 264.8 124.6 264.5 125.0 264.7 125.3 265.4 125.7 265.2 126.0 264.8 126.4 265.4 126.7 265.5 127.1 265.0 127.4 265.3 127.8 265.3 128.1 264.9 128.5 265.9 128.8 265.3 129.2 265.1 129.5 264.7 129.9 264.9 130.2 266.4 130.6 265.1 130.9 266.0 131.3 265.6 131.6 266.1 132.0 266.3 132.3 265.6 132.7 265.9 133.0 266.2 133.4 266.3 133.7 266.3 134.1 266.2 134.4 266.7 134.8 267.1 135.1 266.8 135.5 266.2 135.8 266.8 136.2 266.7 136.5 267.0 136.9 267.7 137.2 266.8 137.6 266.9 137.9 266.6 138.3 266.9 138.6 266.9 139.0 268.0 139.3 267.4 139.7 267.0 140.0 268.4 140.4 266.8 140.7 268.0 141.1 268.1 141.4 267.9 141.8 267.6 142.1 267.7 142.5 267.7 142.8 268.3 143.2 266.8 143.5 267.8 143.9 268.2 144.2 267.9 144.6 267.4 144.9 268.2 145.3 268.0 145.6 268.9 146.0 269.2 146.3 268.6 146.7 267.7 147.0 268.6 147.4 268.3 147.7 269.2 148.1 269.8 148.4 269.2 148.8 270.1 149.1 269.9 149.5 269.5 149.8 268.8 150.2 269.4 150.5 268.7 150.9 270.0 151.2 269.6 151.6 270.3 151.9 269.9 152.3 268.8 152.6 270.2 153.0 270.4 153.3 270.8 153.7 269.5 154.0 269.6 154.4 270.2 154.7 269.7 155.1 269.6 155.4 269.8 155.8 271.7 156.1 270.1 156.5 270.0 156.8 270.3 157.2 270.6 157.5 271.3 157.9 271.2 158.2 271.2 158.6 270.9 158.9 271.0 159.3 270.6 159.6 270.3 160.0 272.1 160.3 270.9 160.7 271.7 161.0 271.1 161.4 271.3 161.7 271.3 162.1 270.8 162.4 271.5 162.8 271.8 163.1 272.1 163.5 272.0 163.8 272.3 164.2 272.0 164.5 271.9 164.9 271.0 165.2 271.8 165.6 272.9 165.9 272.3 166.3 272.7 166.6 272.3 167.0 272.1 167.3 273.6 167.7 272.8 168.0 273.5 168.4 273.1 168.7 272.8 169.1 271.9 169.4 273.1 169.8 272.4 170.1 272.2 170.5 274.0 170.8 273.8 171.2 273.9 171.5 273.6 171.9 273.7 172.2 274.0 172.6 273.9 172.9 274.0 173.3 274.4 173.6 272.9 174.0 274.6 174.3 273.9 174.7 274.7 175.0 274.9 175.4 274.0 175.7 274.8 176.1 274.9 176.4 274.2 176.8 274.3 177.1 274.7 177.5 273.6 177.8 274.5 178.2 274.9 178.5 274.6 178.9 274.1 179.2 274.7 179.6 275.7 179.9 275.7 180.3 275.0 180.6 274.7 181.0 275.1 181.3 275.2 181.7 274.9 182.0 275.1 182.4 275.6 182.7 275.8 183.1 274.1 183.4 275.9 183.8 275.5 184.1 276.0 184.5 275.5 184.8 275.7 185.2 276.3 185.5 274.0 185.9 276.3 186.2 275.6 186.6 274.6 186.9 274.2 187.3 275.7 187.6 275.1 188.0 276.1 188.3 275.7 188.7 275.5 189.0 276.1 189.4 275.7 189.7 276.0 190.1 276.0 190.4 275.8 190.8 276.0 191.1 276.0 191.5 274.9 191.8 275.5 192.2 275.6 192.5 275.4 192.9 274.8 193.2 275.3 193.6 275.8 193.9 275.7 194.3 276.4 194.6 275.3 195.0 275.4 195.3 275.3 195.7 275.4 196.0 275.2 196.4 274.6 196.7 275.7 197.1 276.0 197.4 276.0 197.8 274.9 198.1 275.3 198.5 276.3 198.8 275.3 199.2 275.5 199.5 275.2 199.9 275.8 200.2 275.8 200.6 276.4 200.9 275.5 201.3 275.5 201.6 274.6 202.0 275.0 202.3 274.9 202.7 275.1 203.0 274.6 203.4 275.9 203.7 274.7 204.1 275.4 204.4 274.6 204.8 275.4 205.1 276.1 205.5 274.9 205.8 275.5 206.2 275.3 206.5 275.4 206.9 275.5 207.2 275.0 207.6 275.2 207.9 275.0 208.3 274.9 208.6 274.7 209.0 275.8 209.3 275.0 209.7 275.7 210.0 275.6 210.4 274.9 210.7 275.9 211.1 275.0 211.4 275.7 211.8 276.1 212.1 275.1 212.5 275.0 212.8 275.0 213.2 276.6 213.5 275.3 213.9 274.8 214.2 275.9 214.6 275.4 214.9 275.5 215.3 275.0 215.6 274.4 216.0 275.1 216.3 274.9 216.7 274.6 217.0 274.9 217.4 274.9 217.7 275.8 218.1 275.8 218.4 275.7 218.8 275.1 219.1 274.8 219.5 275.5 219.8 275.6 220.2 275.9 220.5 275.4 220.9 275.3 221.2 275.5 221.6 274.9 221.9 274.9 222.3 275.7 222.6 274.7 223.0 275.3 223.3 275.7 223.7 275.4 224.0 275.5 224.4 274.7 224.7 275.2 225.1 275.1 225.4 275.5 225.8 275.4 226.1 275.2 226.5 276.1 226.8 275.4 227.2 275.0 227.5 274.8 227.9 275.1 228.2 274.8 228.6 275.8 228.9 275.3 229.3 274.8 229.6 274.6 230.0 274.3 230.3 274.7 230.7 275.5 231.0 275.2 231.4 274.7 231.7 274.7 232.1 273.7 232.4 275.0 232.8 274.4 233.1 275.2 233.5 274.4 233.8 274.2 234.2 274.5 234.5 274.0 234.9 274.9 235.2 274.3 235.6 274.3 235.9 274.3 236.3 273.9 236.6 274.3 237.0 274.0 237.3 274.8 237.7 273.9 238.0 274.0 238.4 273.5 238.7 273.5 239.1 273.5 239.4 274.3 239.8 273.6 240.1 274.0 240.5 273.4 240.8 273.3 241.2 272.4 241.5 273.8 241.9 274.3 242.2 273.1 242.6 273.9 242.9 273.6 243.3 272.7 243.6 273.4 244.0 272.5 244.3 272.7 244.7 273.4 245.0 272.9 245.4 272.2 245.7 273.4 246.1 272.1 246.4 272.6 246.8 272.4 247.1 272.5 247.5 272.1 247.8 271.7 248.2 273.4 248.5 272.0 248.9 272.0 249.2 271.2 249.6 272.4 249.9 273.0 250.3 273.1 250.6 273.7 251.0 273.1 251.3 272.5 251.7 272.3 252.0 273.0 252.4 272.3 252.7 272.4 253.1 271.8 253.4 272.3 253.8 273.2 254.1 272.2 254.5 272.4 254.8 271.0 255.2 272.9 255.5 272.4 255.9 272.9 256.2 272.3 256.6 271.7 256.9 271.5 257.3 272.4 257.6 272.1 258.0 271.6 258.3 272.1 258.7 271.8 259.0 272.4 259.4 271.9 259.7 271.5 260.1 272.0 260.4 271.8 260.8 272.8 261.1 271.8 261.5 271.4 261.8 272.0 262.2 271.9 262.5 272.2 262.9 272.2 263.2 271.6 263.6 272.0 263.9 272.0 264.3 271.5 264.6 271.8 265.0 272.2 265.3 271.3 265.7 271.5 266.0 271.9 266.4 272.0 266.7 272.3 267.1 271.4 267.4 272.2 267.8 272.4 268.1 272.9 268.5 271.9 268.8 271.7 269.2 271.4 269.5 272.4 269.9 272.8 270.2 271.8 270.6 272.4 270.9 272.6 271.3 272.7 271.6 272.0 272.0 272.5 272.3 272.2 272.7 271.8 273.0 272.4 273.4 272.4 273.7 271.8 274.1 272.5 274.4 273.3 274.8 271.5 275.1 272.6 275.5 272.7 275.8 272.3 276.2 272.4 276.5 272.1 276.9 272.9 277.2 271.7 277.6 272.1 277.9 271.2 278.3 272.3 278.6 272.3 279.0 271.2 279.3 271.6 279.7 272.3 280.0 271.7 280.4 271.4 280.7 270.7 281.1 272.1 281.4 272.8 281.8 271.6 282.1 272.0 282.5 272.0 282.8 271.7 283.2 271.7 283.5 271.7 283.9 271.1 284.2 272.8 284.6 272.8 284.9 271.6 285.3 272.3 285.6 270.9 286.0 271.2 286.3 271.8 286.7 270.6 287.0 270.4 287.4 271.2 287.7 270.0 288.1 271.8 288.4 271.2 288.8 270.9 289.1 271.0 289.5 270.2 289.8 270.1 290.2 270.9 290.5 270.8 290.9 270.3 291.2 270.1 291.6 269.8 291.9 270.6 292.3 269.1 292.6 269.3 293.0 269.3 293.3 268.6 293.7 268.6 294.0 268.6 294.4 269.4 294.7 269.7 295.1 268.8 295.4 267.6 295.8 267.9 296.1 267.9 296.5 267.7 296.8 267.4 297.2 267.7 297.5 266.2 297.9 266.6 298.2 266.8 298.6 266.7 298.9 266.2 299.3 265.8 299.6 265.4 300.0 264.8 300.3 264.8 300.7 264.3 301.0 263.7 301.4 264.3 301.7 263.9 302.1 262.8 302.4 262.9 302.8 262.8 303.1 261.9 303.5 261.4 303.8 261.1 304.2 259.6 304.5 259.2 304.9 259.7 305.2 259.1 305.6 259.1 305.9 257.7 306.3 257.9 306.6 257.4 307.0 257.3 307.3 255.3 307.7 254.9 308.0 254.6 308.4 253.9 308.7 252.5 309.1 252.0 309.4 250.7 309.8 251.6 310.1 249.4 310.5 248.4 310.8 247.2 311.2 246.4 311.5 245.6 311.9 244.3 312.2 243.5 312.6 243.2 312.9 242.0 313.3 241.0 313.6 239.9 314.0 239.1 314.3 237.8 314.7 236.9 315.0 235.3 315.4 233.8 315.7 232.3 316.1 230.3 316.4 228.7 316.8 227.0 317.1 223.8 317.5 220.8 317.8 218.6 318.2 215.4 318.5 213.0 318.9 209.4 319.2 206.2 319.6 202.2 319.9 198.3 320.3 194.8 320.6 190.9 321.0 186.0 321.3 181.0 321.7 175.8 322.0 169.3 322.4 162.3 322.7 155.4 323.1 149.7 323.4 143.4 323.8 137.6 324.1 132.1 324.5 127.5 324.8 122.1 325.2 118.5 325.5 113.6 325.9 109.1 326.2 106.0 326.6 103.7 326.9 102.4 327.3 100.3 327.6 99.6 328.0 98.8 328.3 98.7 328.7 98.4 329.0 99.0 329.4 100.5 329.7 101.2 330.1 101.8 330.4 104.1 330.8 106.5 331.1 109.9 331.5 114.6 331.8 120.2 332.2 124.2 332.5 128.7 332.9 132.9 333.2 136.6 333.6 140.6 333.9 144.7 334.3 147.4 334.6 150.9 335.0 153.5 335.3 156.3 335.7 158.7 336.0 160.9 336.4 162.7 336.7 164.6 337.1 166.0 337.4 167.5 337.8 169.4 338.1 170.4 338.5 172.3 338.8 173.8 339.2 174.8 339.5 176.6 339.9 177.6 340.2 179.1 340.6 179.9 340.9 181.2 341.3 182.0 341.6 182.5 342.0 184.0 342.3 184.5 342.7 184.5 343.0 185.6 343.4 186.0 343.7 187.1 344.1 187.1 344.4 187.7 344.8 188.1 345.1 188.7 345.5 188.8 345.8 189.1 346.2 189.5 346.5 189.9 346.9 190.5 347.2 190.6 347.6 190.8 347.9 191.1 348.3 191.2 348.6 191.8 349.0 191.6 349.3 192.3 349.7 193.0 350.0 192.8 350.4 192.9 350.7 193.1 351.1 192.7 351.4 192.5 351.8 192.4 352.1 191.7 352.5 191.9 352.8 191.1 353.2 190.5 353.5 189.8 353.9 189.2 354.2 188.1 354.6 188.0 354.9 187.5 355.3 186.7 355.6 185.6 356.0 184.9 356.3 184.0 356.7 182.9 357.0 182.1 357.4 181.3 357.7 180.3 358.1 179.1 358.4 178.0 358.8 176.8 359.1 174.9 359.5 173.9 359.8 172.4 360.2 170.4 360.5 169.1 360.9 168.4 361.2 166.5 361.6 165.4 361.9 163.6 362.3 162.7 362.6 161.2 363.0 159.5 363.3 158.3 363.7 157.1 364.0 155.6 364.4 153.3 364.7 151.2 365.1 149.0 365.4 147.3 365.8 145.0 366.1 142.3 366.5 139.6 366.8 136.7 367.2 133.2 367.5 129.5 367.9 125.2 368.2 121.3 368.6 117.4 368.9 112.9 369.3 110.5 369.6 107.5 370.0 105.2 370.3 103.4 370.7 101.8 371.0 99.8 371.4 98.6 371.7 97.2 372.1 96.4 372.4 94.9 372.8 94.1 373.1 93.0 373.5 92.4 373.8 92.1 374.2 91.5 374.5 91.4 374.9 91.6 375.2 92.1 375.6 92.1 375.9 93.0 376.3 93.7 376.6 93.9 377.0 94.3 377.3 95.1 377.7 96.3 378.0 96.6 378.4 97.7 378.7 98.0 379.1 99.2 379.4 99.4 379.8 100.7 380.1 101.8 380.5 103.5 380.8 104.5 381.2 106.2 381.5 107.4 381.9 109.1 382.2 111.3 382.6 113.8 382.9 117.8 383.3 122.8 383.6 126.5 384.0 130.9 384.3 133.8 384.7 137.1 385.0 139.5 385.4 140.9 385.7 142.7 386.1 144.3 386.4 146.2 386.8 147.9 387.1 149.1 387.5 151.0 387.8 152.4 388.2 154.6 388.5 156.7 388.9 159.2 389.2 161.0 389.6 163.4 389.9 165.6 390.3 167.2 390.6 168.6 391.0 169.9 391.3 170.8 391.7 171.9 392.0 173.5 392.4 174.6 392.7 175.6 393.1 177.3 393.4 179.0 393.8 180.6 394.1 182.1 394.5 183.7 394.8 184.9 395.2 186.4 395.5 187.9 395.9 189.8 396.2 191.2 396.6 192.9 396.9 194.1 397.3 195.0 397.6 196.0 398.0 197.2 398.3 198.5 398.7 199.9 399.0 200.5 399.4 201.5 399.7 203.1 400.1 204.8 400.4 206.1 400.8 207.8 401.1 208.1 401.5 209.0 401.8 210.1 402.2 210.5 402.5 211.8 402.9 213.6 403.2 214.9 403.6 215.2 403.9 215.5 404.3 215.9 404.6 216.9 405.0 216.5 405.3 218.3 405.7 219.0 406.0 219.1 406.4 219.7 406.7 219.3 407.1 221.1 407.4 221.6 407.8 220.3 408.1 221.8 408.5 222.7 408.8 223.9 409.2 223.1 409.5 224.0 409.9 225.2 410.2 225.2 410.6 225.3 410.9 225.6 411.3 226.3 411.6 226.4 412.0 227.7 412.3 227.2 412.7 228.4 413.0 229.1 413.4 229.7 413.7 229.6 414.1 230.1 414.4 230.8 414.8 231.1 415.1 232.2 415.5 232.1 415.8 233.6 416.2 234.6 416.5 233.4 416.9 234.5 417.2 234.3 417.6 235.8 417.9 236.2 418.3 236.5 418.6 236.7 419.0 237.9 419.3 239.6 419.7 240.0 420.0 240.0 420.4 240.1 420.7 240.9 421.1 241.1 421.4 241.3 421.8 242.0 422.1 243.3 422.5 243.6 422.8 243.9 423.2 243.7 423.5 244.0 423.9 245.6 424.2 245.3 424.6 246.4 424.9 245.9 425.3 247.1 425.6 247.2 426.0 247.2 426.3 247.6 426.7 249.2 427.0 249.1 427.4 248.9 427.7 249.6 428.1 249.1 428.4 251.1 428.8 251.3 429.1 250.7 429.5 251.5 429.8 250.2 430.2 252.4 430.5 252.4 430.9 252.6 431.2 253.2 431.6 253.2 431.9 252.8 432.3 253.2 432.6 253.7 433.0 254.4 433.3 254.2 433.7 254.1 434.0 254.8 434.4 254.2 434.7 256.0 435.1 255.3 435.4 254.9 435.8 255.6 436.1 256.3 436.5 256.2 436.8 257.1 437.2 255.5 437.5 257.2 437.9 256.5 438.2 257.1 438.6 257.7 438.9 256.3 439.3 256.3 439.6 257.0 440.0 256.4 440.3 256.4 440.7 257.5 441.0 258.2 441.4 257.4 441.7 258.0 442.1 259.7 442.4 258.1 442.8 257.9 443.1 258.0 443.5 258.4 443.8 258.1 444.2 258.6 444.5 258.5 444.9 258.9 445.2 258.6 445.6 258.5 445.9 258.2 446.3 258.0 446.6 258.6 447.0 258.6 447.3 259.0 447.7 258.9 448.0 258.8 448.4 260.3 448.7 259.4 449.1 259.9 449.4 258.8 449.8 259.9 450.1 260.1 450.5 259.9 450.8 259.3 451.2 260.5 451.5 259.6 451.9 259.3 452.2 259.4 452.6 260.3 452.9 260.2 453.3 261.0 453.6 261.0 454.0 261.5 454.3 261.1 454.7 261.1 455.0 261.2 455.4 260.9 455.7 261.0 456.1 261.2 456.4 261.8 456.8 261.4 457.1 261.9 457.5 262.6 457.8 261.0 458.2 261.8 458.5 261.9 458.9 262.4 459.2 261.8 459.6 262.3 459.9 263.8 460.3 262.0 460.6 262.8 461.0 263.0 461.3 262.8 461.7 262.4 462.0 263.5 462.4 262.1 462.7 262.6 463.1 263.0 463.4 262.9 463.8 263.8 464.1 263.1 464.5 264.3 464.8 263.4 465.2 264.2 465.5 263.7 465.9 263.4 466.2 263.4 466.6 264.1 466.9 263.3 467.3 263.6 467.6 263.3 468.0 262.7 468.3 264.0 468.7 264.1 469.0 263.2 469.4 264.1 469.7 263.8 470.1 263.0 470.4 263.5 470.8 264.4 471.1 264.6 471.5 264.3 471.8 265.6 472.2 264.4 472.5 263.9 472.9 263.6 473.2 265.1 473.6 264.2 473.9 264.3 474.3 264.1 474.6 264.1 475.0 264.4 475.3 264.9 475.7 265.0 476.0 264.9 476.4 265.3 476.7 264.6 477.1 264.4 477.4 264.9 477.8 263.9 478.1 265.4 478.5 265.3 478.8 265.3 479.2 264.6 479.5 264.9 479.9 265.2 480.2 264.7 480.6 264.7 480.9 265.2 481.3 265.4 481.6 265.0 482.0 265.9 482.3 266.5 482.7 265.7 483.0 265.4 483.4 265.3 483.7 266.3 484.1 265.7 484.4 265.9 484.8 265.7 485.1 265.3 485.5 266.4 485.8 265.6 486.2 265.8 486.5 264.7 486.9 266.8 487.2 266.2 487.6 265.8 487.9 265.4 488.3 265.5 488.6 265.0 489.0 266.1 489.3 265.5 489.7 266.2 490.0 266.2 490.4 267.0 490.7 266.1 491.1 266.2 491.4 266.3 491.8 265.8 492.1 266.0 492.5 266.3 492.8 266.8 493.2 266.6 493.5 266.1 493.9 266.9 494.2 266.1 494.6 265.6 494.9 267.1 495.3 266.4 495.6 266.2 496.0 265.8 496.3 266.2 496.7 267.3 497.0 266.5 497.4 267.7 497.7 266.6 498.1 267.2 498.4 266.7 498.8 266.4 499.1 266.5 499.5 266.6 499.8 266.1 500.2 266.1 500.5 267.0 500.9 267.4 501.2 266.9 501.6 266.9 501.9 266.4 502.3 267.5 502.6 267.5 503.0 266.4 503.3 267.0 503.7 266.9 504.0 266.3 504.4 267.9 504.7 267.7 505.1 267.3 505.4 267.9 505.8 266.9 506.1 267.3 506.5 267.9 506.8 267.1 507.2 267.4 507.5 266.8 507.9 267.6 508.2 267.9 508.6 266.9 508.9 267.0 509.3 267.4 509.6 268.1 510.0 267.2 510.3 267.1 510.7 267.5 511.0 268.1 511.4 266.8 511.7 267.5 512.1 268.3 512.4 267.6 512.8 267.5 513.1 268.1 513.5 267.1 513.8 268.8 514.2 268.0 514.5 267.6 514.9 267.9 515.2 267.8 515.6 267.7 515.9 267.3 516.3 267.8 516.6 267.1 517.0 268.6 517.3 267.4 517.7 267.6 518.0 267.6 518.4 268.3 518.7 267.9 519.1 268.7 519.4 267.8 519.8 268.1 520.1 268.0 520.5 267.8 520.8 268.6 521.2 268.6 521.5 268.7 521.9 267.3 522.2 268.2 522.6 267.4 522.9 267.4 523.3 267.1 523.6 267.5 524.0 268.3 524.3 268.7 524.7 268.9 525.0 267.5 525.4 267.7 525.7 268.1 526.1 268.1 526.4 268.1 526.8 267.1 527.1 267.9 527.5 268.3 527.8 268.1 528.2 267.9 528.5 267.6 528.9 268.0 529.2 268.8 529.6 268.3 529.9 268.5 530.3 268.8 530.6 267.5 531.0 268.3 531.3 268.2 531.7 268.7 532.0 267.9 532.4 267.9 532.7 267.7 533.1 268.1 533.4 267.9 533.8 267.9" stroke="#0070C0"/>
<path d="M59.5 263.7 59.9 257.8 60.2 262.2 60.6 261.0 60.9 262.2 61.3 260.9 61.6 262.3 62.0 260.0 62.3 259.2 62.7 260.2 63.0 259.9 63.4 258.7 63.7 258.6 64.1 259.5 64.4 259.3 64.8 257.6 65.1 257.6 65.5 255.7 65.8 259.5 66.2 257.2 66.5 258.8 66.9 257.7 67.2 259.4 67.6 258.9 67.9 257.4 68.3 258.7 68.6 255.9 69.0 258.4 69.3 255.2 69.7 257.3 70.0 258.1 70.4 257.1 70.7 256.4 71.1 255.8 71.4 256.3 71.8 257.9 72.1 257.7 72.5 256.4 72.8 255.2 73.2 257.4 73.5 254.9 73.9 256.0 74.2 255.7 74.6 257.4 74.9 256.8 75.3 257.1 75.6 256.8 76.0 255.7 76.3 257.1 76.7 258.1 77.0 256.4 77.4 257.1 77.7 256.2 78.1 257.5 78.4 257.1 78.8 257.3 79.1 256.7 79.5 258.1 79.8 255.8 80.2 255.8 80.5 255.5 80.9 256.8 81.2 255.3 81.6 255.3 81.9 256.8 82.3 257.3 82.6 256.5 83.0 252.8 83.3 254.7 83.7 254.5 84.0 254.3 84.4 255.2 84.7 257.6 85.1 255.1 85.4 254.5 85.8 256.1 86.1 255.3 86.5 255.3 86.8 254.3 87.2 255.0 87.5 255.4 87.9 252.6 88.2 252.9 88.6 255.9 88.9 255.6 89.3 254.0 89.6 253.3 90.0 254.2 90.3 253.0 90.7 253.9 91.0 256.2 91.4 254.4 91.7 255.5 92.1 253.9 92.4 254.5 92.8 255.6 93.1 252.4 93.5 253.5 93.8 253.7 94.2 254.2 94.5 255.6 94.9 254.5 95.2 252.0 95.6 253.3 95.9 252.6 96.3 252.5 96.6 255.9 97.0 252.3 97.3 253.7 97.7 252.6 98.0 254.3 98.4 253.7 98.7 253.4 99.1 253.2 99.4 254.5 99.8 252.1 100.1 252.3 100.5 251.8 100.8 254.6 101.2 252.7 101.5 251.9 101.9 252.6 102.2 255.9 102.6 252.9 102.9 254.0 103.3 253.5 103.6 253.0 104.0 252.2 104.3 252.6 104.7 252.6 105.0 250.5 105.4 256.1 105.7 254.2 106.1 253.3 106.4 253.0 106.8 252.4 107.1 254.4 107.5 253.1 107.8 254.0 108.2 251.9 108.5 253.9 108.9 255.9 109.2 253.3 109.6 254.6 109.9 253.7 110.3 255.0 110.6 255.0 111.0 253.9 111.3 253.2 111.7 254.2 112.0 254.0 112.4 253.2 112.7 254.5 113.1 254.5 113.4 253.0 113.8 254.0 114.1 257.5 114.5 255.1 114.8 254.3 115.2 257.2 115.5 253.8 115.9 251.5 116.2 252.2 116.6 252.7 116.9 254.8 117.3 255.6 117.6 252.1 118.0 255.9 118.3 253.2 118.7 255.0 119.0 255.3 119.4 255.3 119.7 254.8 120.1 255.1 120.4 253.6 120.8 255.3 121.1 256.1 121.5 256.1 121.8 258.1 122.2 256.4 122.5 256.1 122.9 257.2 123.2 255.6 123.6 253.9 123.9 252.8 124.3 256.9 124.6 256.2 125.0 256.6 125.3 255.3 125.7 256.1 126.0 258.0 126.4 256.3 126.7 254.7 127.1 255.6 127.4 257.8 127.8 255.0 128.1 253.4 128.5 253.8 128.8 255.0 129.2 257.6 129.5 256.9 129.9 256.0 130.2 255.5 130.6 256.9 130.9 257.0 131.3 256.6 131.6 257.0 132.0 256.5 132.3 259.6 132.7 254.9 133.0 257.8 133.4 256.6 133.7 258.7 134.1 257.7 134.4 258.5 134.8 258.8 135.1 258.5 135.5 259.5 135.8 256.9 136.2 259.7 136.5 258.4 136.9 259.2 137.2 260.7 137.6 260.3 137.9 261.4 138.3 256.6 138.6 258.2 139.0 260.5 139.3 258.2 139.7 259.4 140.0 261.7 140.4 260.8 140.7 258.7 141.1 260.5 141.4 260.8 141.8 260.2 142.1 260.1 142.5 260.4 142.8 258.6 143.2 260.6 143.5 259.4 143.9 261.0 144.2 261.2 144.6 259.7 144.9 261.6 145.3 261.4 145.6 261.0 146.0 262.0 146.3 260.8 146.7 261.0 147.0 261.5 147.4 261.4 147.7 262.9 148.1 258.9 148.4 261.4 148.8 259.5 149.1 261.3 149.5 262.3 149.8 262.1 150.2 263.3 150.5 262.7 150.9 259.3 151.2 261.2 151.6 264.4 151.9 264.5 152.3 262.9 152.6 261.1 153.0 265.5 153.3 260.7 153.7 263.6 154.0 263.3 154.4 263.8 154.7 262.2 155.1 263.2 155.4 265.0 155.8 263.3 156.1 262.4 156.5 264.1 156.8 264.3 157.2 264.2 157.5 263.5 157.9 265.2 158.2 264.5 158.6 263.4 158.9 265.2 159.3 265.0 159.6 265.3 160.0 263.3 160.3 264.5 160.7 266.0 161.0 266.7 161.4 266.1 161.7 266.0 162.1 266.8 162.4 267.2 162.8 268.2 163.1 266.8 163.5 265.8 163.8 267.1 164.2 264.4 164.5 266.8 164.9 266.4 165.2 267.0 165.6 267.7 165.9 267.3 166.3 265.7 166.6 267.1 167.0 266.7 167.3 267.7 167.7 268.3 168.0 266.9 168.4 269.0 168.7 269.7 169.1 268.1 169.4 269.3 169.8 266.9 170.1 268.1 170.5 270.0 170.8 267.0 171.2 268.6 171.5 268.2 171.9 270.7 172.2 270.8 172.6 268.9 172.9 269.9 173.3 266.8 173.6 270.9 174.0 270.4 174.3 271.7 174.7 267.5 175.0 270.7 175.4 270.0 175.7 267.4 176.1 269.7 176.4 270.5 176.8 271.6 177.1 270.9 177.5 270.2 177.8 271.3 178.2 270.8 178.5 270.2 178.9 269.8 179.2 271.2 179.6 271.3 179.9 273.3 180.3 270.7 180.6 273.1 181.0 271.7 181.3 272.7 181.7 270.4 182.0 270.4 182.4 271.1 182.7 272.6 183.1 271.8 183.4 272.5 183.8 272.0 184.1 272.9 184.5 272.0 184.8 271.2 185.2 272.4 185.5 271.9 185.9 273.8 186.2 271.7 186.6 272.0 186.9 271.5 187.3 273.2 187.6 272.9 188.0 272.7 188.3 270.5 188.7 270.2 189.0 272.3 189.4 272.8 189.7 273.7 190.1 269.9 190.4 271.8 190.8 270.1 191.1 270.9 191.5 271.8 191.8 273.1 192.2 271.4 192.5 271.2 192.9 271.7 193.2 273.5 193.6 274.8 193.9 270.2 194.3 271.7 194.6 271.5 195.0 273.3 195.3 272.4 195.7 273.7 196.0 270.7 196.4 271.9 196.7 271.3 197.1 270.5 197.4 271.6 197.8 270.4 198.1 274.2 198.5 272.2 198.8 270.5 199.2 270.9 199.5 273.6 199.9 271.0 200.2 272.4 200.6 272.2 200.9 272.8 201.3 272.3 201.6 271.3 202.0 270.9 202.3 269.6 202.7 271.5 203.0 271.8 203.4 271.2 203.7 271.5 204.1 270.2 204.4 274.1 204.8 271.1 205.1 270.5 205.5 271.0 205.8 271.5 206.2 272.6 206.5 268.9 206.9 272.3 207.2 271.1 207.6 271.6 207.9 273.0 208.3 272.7 208.6 271.1 209.0 271.8 209.3 274.0 209.7 273.5 210.0 272.9 210.4 272.0 210.7 273.1 211.1 272.5 211.4 271.4 211.8 270.9 212.1 272.7 212.5 272.5 212.8 273.5 213.2 271.6 213.5 273.8 213.9 271.8 214.2 273.7 214.6 272.9 214.9 271.6 215.3 271.2 215.6 272.1 216.0 272.0 216.3 273.4 216.7 271.5 217.0 270.6 217.4 272.3 217.7 274.5 218.1 274.2 218.4 271.6 218.8 272.0 219.1 272.7 219.5 271.6 219.8 272.1 220.2 272.1 220.5 271.2 220.9 271.7 221.2 271.9 221.6 272.8 221.9 271.1 222.3 272.6 222.6 271.4 223.0 271.6 223.3 271.2 223.7 277.1 224.0 273.9 224.4 274.0 224.7 273.4 225.1 272.1 225.4 272.4 225.8 272.7 226.1 272.8 226.5 272.9 226.8 274.0 227.2 268.8 227.5 271.5 227.9 272.9 228.2 271.7 228.6 271.9 228.9 273.7 229.3 272.2 229.6 274.0 230.0 271.8 230.3 272.2 230.7 270.7 231.0 269.7 231.4 271.5 231.7 272.0 232.1 271.6 232.4 270.5 232.8 272.8 233.1 272.1 233.5 272.1 233.8 271.2 234.2 274.0 234.5 273.8 234.9 272.5 235.2 272.0 235.6 272.5 235.9 274.1 236.3 275.4 236.6 272.2 237.0 271.7 237.3 270.2 237.7 275.5 238.0 271.0 238.4 273.3 238.7 272.9 239.1 273.9 239.4 271.4 239.8 270.5 240.1 272.5 240.5 272.9 240.8 273.7 241.2 270.4 241.5 271.8 241.9 272.0 242.2 270.8 242.6 272.1 242.9 273.2 243.3 272.2 243.6 270.5 244.0 272.5 244.3 273.0 244.7 272.6 245.0 272.8 245.4 270.0 245.7 272.3 246.1 272.4 246.4 271.2 246.8 271.5 247.1 270.6 247.5 272.8 247.8 271.0 248.2 270.2 248.5 271.4 248.9 271.3 249.2 271.9 249.6 270.1 249.9 270.2 250.3 271.4 250.6 273.5 251.0 271.4 251.3 269.3 251.7 271.0 252.0 269.9 252.4 268.6 252.7 269.9 253.1 270.0 253.4 271.1 253.8 272.1 254.1 271.9 254.5 271.5 254.8 270.0 255.2 270.6 255.5 270.4 255.9 272.0 256.2 269.6 256.6 269.7 256.9 272.0 257.3 271.0 257.6 269.7 258.0 270.4 258.3 270.4 258.7 270.4 259.0 271.1 259.4 270.5 259.7 269.9 260.1 269.5 260.4 268.0 260.8 269.5 261.1 271.3 261.5 270.2 261.8 269.2 262.2 269.6 262.5 268.9 262.9 270.2 263.2 272.1 263.6 271.9 263.9 271.1 264.3 270.6 264.6 269.4 265.0 268.2 265.3 269.6 265.7 269.1 266.0 270.5 266.4 269.7 266.7 268.8 267.1 270.0 267.4 272.8 267.8 268.3 268.1 270.7 268.5 270.0 268.8 269.2 269.2 268.4 269.5 269.3 269.9 269.5 270.2 270.1 270.6 270.0 270.9 269.5 271.3 268.3 271.6 269.4 272.0 268.5 272.3 267.8 272.7 270.0 273.0 268.1 273.4 267.5 273.7 268.9 274.1 266.6 274.4 268.7 274.8 269.3 275.1 268.2 275.5 268.9 275.8 271.1 276.2 270.2 276.5 269.6 276.9 269.2 277.2 267.8 277.6 268.2 277.9 268.0 278.3 268.3 278.6 268.4 279.0 267.2 279.3 270.0 279.7 266.9 280.0 268.4 280.4 269.2 280.7 267.9 281.1 267.1 281.4 267.9 281.8 270.0 282.1 268.5 282.5 267.4 282.8 268.3 283.2 267.4 283.5 265.4 283.9 267.8 284.2 268.6 284.6 268.7 284.9 267.3 285.3 265.6 285.6 268.6 286.0 267.0 286.3 267.9 286.7 268.3 287.0 267.3 287.4 266.8 287.7 266.0 288.1 266.2 288.4 266.6 288.8 266.0 289.1 266.8 289.5 264.1 289.8 265.1 290.2 266.1 290.5 265.3 290.9 265.4 291.2 264.7 291.6 266.7 291.9 267.7 292.3 264.6 292.6 267.0 293.0 263.9 293.3 265.6 293.7 263.0 294.0 265.8 294.4 265.1 294.7 265.0 295.1 266.0 295.4 265.1 295.8 264.1 296.1 263.0 296.5 263.7 296.8 262.5 297.2 262.4 297.5 264.2 297.9 263.1 298.2 262.1 298.6 262.1 298.9 259.4 299.3 260.9 299.6 258.5 300.0 259.5 300.3 260.5 300.7 260.3 301.0 260.6 301.4 259.7 301.7 259.4 302.1 259.2 302.4 260.5 302.8 260.2 303.1 256.7 303.5 258.3 303.8 259.3 304.2 257.1 304.5 257.2 304.9 255.7 305.2 254.3 305.6 254.9 305.9 253.5 306.3 252.9 306.6 250.7 307.0 250.3 307.3 250.7 307.7 249.6 308.0 249.5 308.4 248.1 308.7 247.6 309.1 246.5 309.4 245.4 309.8 244.7 310.1 243.7 310.5 242.8 310.8 241.8 311.2 240.1 311.5 238.5 311.9 236.4 312.2 233.4 312.6 231.6 312.9 229.0 313.3 226.9 313.6 225.0 314.0 223.0 314.3 221.1 314.7 218.4 315.0 216.4 315.4 213.2 315.7 210.1 316.1 206.7 316.4 202.7 316.8 198.6 317.1 194.6 317.5 190.3 317.8 185.7 318.2 180.6 318.5 176.0 318.9 170.0 319.2 164.1 319.6 158.8 319.9 153.3 320.3 147.5 320.6 142.7 321.0 137.0 321.3 132.3 321.7 128.1 322.0 123.5 322.4 119.7 322.7 116.6 323.1 113.6 323.4 111.3 323.8 108.6 324.1 104.8 324.5 101.4 324.8 98.3 325.2 95.0 325.5 92.5 325.9 91.5 326.2 91.6 326.6 92.5 326.9 92.8 327.3 93.7 327.6 94.3 328.0 94.1 328.3 93.1 328.7 91.6 329.0 92.0 329.4 91.5 329.7 91.7 330.1 93.3 330.4 95.0 330.8 96.5 331.1 98.3 331.5 100.9 331.8 102.4 332.2 105.4 332.5 107.8 332.9 110.7 333.2 113.9 333.6 116.7 333.9 119.3 334.3 120.9 334.6 122.3 335.0 123.6 335.3 124.4 335.7 125.3 336.0 126.7 336.4 127.9 336.7 130.1 337.1 133.0 337.4 134.7 337.8 136.6 338.1 138.5 338.5 139.5 338.8 141.2 339.2 141.7 339.5 142.5 339.9 142.9 340.2 143.0 340.6 142.0 340.9 143.8 341.3 143.3 341.6 142.8 342.0 142.2 342.3 142.0 342.7 142.1 343.0 141.4 343.4 140.1 343.7 139.9 344.1 139.6 344.4 142.2 344.8 144.3 345.1 146.5 345.5 147.4 345.8 148.6 346.2 148.1 346.5 149.3 346.9 149.3 347.2 149.3 347.6 149.0 347.9 150.9 348.3 149.4 348.6 151.7 349.0 151.8 349.3 153.4 349.7 153.5 350.0 155.0 350.4 155.2 350.7 155.0 351.1 154.6 351.4 152.3 351.8 151.3 352.1 150.2 352.5 148.1 352.8 146.4 353.2 146.3 353.5 145.4 353.9 147.6 354.2 148.5 354.6 149.3 354.9 150.7 355.3 149.7 355.6 148.4 356.0 146.4 356.3 144.0 356.7 143.1 357.0 142.1 357.4 141.0 357.7 138.7 358.1 138.5 358.4 136.6 358.8 135.5 359.1 133.8 359.5 133.1 359.8 131.0 360.2 130.5 360.5 129.8 360.9 129.3 361.2 127.5 361.6 127.4 361.9 125.6 362.3 124.6 362.6 121.5 363.0 118.4 363.3 114.7 363.7 111.5 364.0 109.8 364.4 107.8 364.7 106.3 365.1 105.9 365.4 105.8 365.8 105.6 366.1 104.2 366.5 102.5 366.8 101.4 367.2 100.1 367.5 100.3 367.9 98.2 368.2 96.3 368.6 94.3 368.9 94.2 369.3 93.6 369.6 93.7 370.0 94.2 370.3 92.7 370.7 91.4 371.0 92.3 371.4 91.4 371.7 92.8 372.1 93.1 372.4 92.9 372.8 92.1 373.1 93.1 373.5 94.1 373.8 93.2 374.2 93.7 374.5 94.5 374.9 95.0 375.2 95.1 375.6 95.8 375.9 96.3 376.3 96.6 376.6 97.7 377.0 98.8 377.3 98.9 377.7 100.5 378.0 101.5 378.4 102.8 378.7 103.8 379.1 104.2 379.4 105.3 379.8 107.3 380.1 108.3 380.5 109.6 380.8 110.4 381.2 111.2 381.5 113.3 381.9 114.4 382.2 116.4 382.6 118.4 382.9 120.6 383.3 122.9 383.6 124.4 384.0 126.2 384.3 129.3 384.7 131.0 385.0 132.8 385.4 135.8 385.7 136.2 386.1 139.1 386.4 140.6 386.8 142.7 387.1 143.1 387.5 144.9 387.8 144.5 388.2 145.6 388.5 147.8 388.9 148.0 389.2 151.1 389.6 152.5 389.9 153.8 390.3 157.8 390.6 157.6 391.0 160.8 391.3 159.8 391.7 161.3 392.0 163.3 392.4 164.7 392.7 165.3 393.1 167.6 393.4 168.9 393.8 170.5 394.1 171.2 394.5 173.8 394.8 176.2 395.2 178.4 395.5 179.3 395.9 180.0 396.2 180.8 396.6 182.7 396.9 182.5 397.3 184.4 397.6 184.5 398.0 188.0 398.3 189.0 398.7 187.7 399.0 191.5 399.4 193.1 399.7 193.1 400.1 192.9 400.4 194.4 400.8 193.4 401.1 195.1 401.5 196.8 401.8 199.5 402.2 200.3 402.5 204.4 402.9 203.5 403.2 203.1 403.6 204.8 403.9 206.0 404.3 206.2 404.6 207.9 405.0 206.7 405.3 206.7 405.7 208.6 406.0 209.9 406.4 207.8 406.7 207.4 407.1 208.9 407.4 209.9 407.8 209.2 408.1 211.0 408.5 210.2 408.8 212.7 409.2 210.8 409.5 211.6 409.9 213.3 410.2 214.6 410.6 215.6 410.9 214.5 411.3 216.1 411.6 217.8 412.0 220.0 412.3 218.6 412.7 219.5 413.0 222.6 413.4 222.5 413.7 225.0 414.1 224.1 414.4 225.0 414.8 224.2 415.1 225.9 415.5 227.5 415.8 226.2 416.2 225.6 416.5 228.4 416.9 227.5 417.2 228.4 417.6 228.1 417.9 230.6 418.3 229.3 418.6 230.3 419.0 231.6 419.3 232.1 419.7 230.5 420.0 234.4 420.4 233.3 420.7 235.7 421.1 235.9 421.4 237.1 421.8 237.3 422.1 237.6 422.5 239.6 422.8 240.0 423.2 241.2 423.5 240.9 423.9 239.7 424.2 242.1 424.6 243.5 424.9 242.0 425.3 241.2 425.6 240.7 426.0 242.3 426.3 241.1 426.7 244.3 427.0 243.7 427.4 244.2 427.7 245.8 428.1 244.8 428.4 244.9 428.8 247.0 429.1 249.6 429.5 247.9 429.8 250.5 430.2 248.0 430.5 250.7 430.9 251.9 431.2 253.8 431.6 250.1 431.9 252.4 432.3 251.7 432.6 253.4 433.0 252.7 433.3 253.8 433.7 253.0 434.0 253.5 434.4 254.9 434.7 256.3 435.1 255.0 435.4 255.1 435.8 254.6 436.1 257.1 436.5 253.2 436.8 253.2 437.2 254.7 437.5 256.2 437.9 256.8 438.2 256.4 438.6 256.7 438.9 256.1 439.3 255.4 439.6 254.8 440.0 256.6 440.3 255.0 440.7 256.7 441.0 257.1 441.4 255.6 441.7 255.8 442.1 255.8 442.4 257.2 442.8 256.6 443.1 255.7 443.5 256.9 443.8 258.3 444.2 257.0 444.5 256.8 444.9 256.3 445.2 255.8 445.6 257.0 445.9 257.2 446.3 257.0 446.6 259.0 447.0 257.7 447.3 258.1 447.7 258.8 448.0 259.5 448.4 257.2 448.7 259.9 449.1 261.3 449.4 258.9 449.8 260.9 450.1 260.1 450.5 259.8 450.8 261.5 451.2 261.3 451.5 259.2 451.9 261.1 452.2 263.0 452.6 261.6 452.9 261.6 453.3 262.2 453.6 262.3 454.0 263.9 454.3 262.2 454.7 262.0 455.0 264.0 455.4 264.7 455.7 264.5 456.1 264.8 456.4 263.2 456.8 262.4 457.1 263.3 457.5 264.2 457.8 262.4 458.2 264.1 458.5 265.2 458.9 263.8 459.2 266.9 459.6 265.6 459.9 263.4 460.3 263.6 460.6 264.2 461.0 265.8 461.3 265.6 461.7 264.5 462.0 265.4 462.4 266.2 462.7 265.9 463.1 263.5 463.4 264.2 463.8 264.4 464.1 263.5 464.5 266.5 464.8 264.9 465.2 264.9 465.5 264.7 465.9 266.1 466.2 266.4 466.6 266.6 466.9 267.3 467.3 264.8 467.6 267.8 468.0 268.8 468.3 265.4 468.7 265.7 469.0 266.8 469.4 267.6 469.7 265.9 470.1 265.4 470.4 268.7 470.8 265.8 471.1 263.3 471.5 267.1 471.8 267.6 472.2 268.5 472.5 268.6 472.9 270.1 473.2 266.0 473.6 265.6 473.9 265.1 474.3 268.7 474.6 266.3 475.0 264.9 475.3 264.5 475.7 267.1 476.0 266.5 476.4 267.4 476.7 266.1 477.1 266.3 477.4 267.7 477.8 266.9 478.1 267.9 478.5 267.1 478.8 267.0 479.2 267.7 479.5 267.0 479.9 267.6 480.2 267.9 480.6 266.9 480.9 267.3 481.3 267.6 481.6 268.3 482.0 267.8 482.3 267.9 482.7 268.1 483.0 267.3 483.4 268.1 483.7 266.8 484.1 265.6 484.4 268.2 484.8 265.5 485.1 267.6 485.5 269.5 485.8 268.6 486.2 266.7 486.5 268.7 486.9 268.1 487.2 266.9 487.6 267.8 487.9 267.3 488.3 267.6 488.6 268.4 489.0 266.2 489.3 269.0 489.7 270.3 490.0 267.9 490.4 267.0 490.7 267.7 491.1 269.5 491.4 267.6 491.8 268.7 492.1 270.8 492.5 267.4 492.8 268.4 493.2 267.6 493.5 267.9 493.9 268.5 494.2 267.5 494.6 268.9 494.9 268.6 495.3 269.8 495.6 269.3 496.0 268.9 496.3 270.2 496.7 268.3 497.0 269.3 497.4 267.9 497.7 270.3 498.1 267.8 498.4 269.8 498.8 267.9 499.1 269.0 499.5 267.6 499.8 267.9 500.2 267.7 500.5 269.3 500.9 269.5 501.2 269.8 501.6 269.4 501.9 268.7 502.3 269.7 502.6 270.8 503.0 268.6 503.3 268.2 503.7 269.7 504.0 271.5 504.4 269.1 504.7 268.8 505.1 268.1 505.4 268.4 505.8 268.2 506.1 268.2 506.5 270.5 506.8 270.8 507.2 269.5 507.5 269.5 507.9 270.4 508.2 269.5 508.6 269.6 508.9 270.2 509.3 269.5 509.6 271.1 510.0 273.3 510.3 269.7 510.7 270.0 511.0 268.8 511.4 269.3 511.7 269.9 512.1 270.3 512.4 269.7 512.8 268.6 513.1 270.4 513.5 269.4 513.8 270.5 514.2 269.8 514.5 269.9 514.9 270.0 515.2 267.7 515.6 271.6 515.9 269.2 516.3 270.6 516.6 270.9 517.0 269.6 517.3 268.7 517.7 271.0 518.0 269.2 518.4 270.2 518.7 270.9 519.1 269.8 519.4 268.4 519.8 269.6 520.1 270.9 520.5 269.4 520.8 271.3 521.2 268.6 521.5 269.2 521.9 268.3 522.2 269.2 522.6 272.0 522.9 271.0 523.3 270.0 523.6 269.6 524.0 271.6 524.3 270.1 524.7 269.1 525.0 272.0 525.4 268.8 525.7 270.5 526.1 271.0 526.4 271.4 526.8 272.5 527.1 271.2 527.5 269.5 527.8 271.6 528.2 270.6 528.5 268.9 528.9 269.0 529.2 269.3 529.6 267.8 529.9 270.7 530.3 270.9 530.6 270.8 531.0 269.3 531.3 270.2 531.7 271.6 532.0 270.7 532.4 270.1 532.7 269.4 533.1 270.2 533.4 271.7 533.8 270.3" stroke="#FBA976"/>
<path d="M225.5 272.4 227.0 271.0 228.5 270.5 230.0 269.4 231.5 271.4 233.0 272.7 234.5 271.7 236.0 272.0 237.5 272.3 239.0 270.7 240.5 273.5 242.0 270.4 243.5 271.0 245.0 272.5 246.5 269.8 248.0 269.6 249.5 268.9 251.0 269.6 252.5 267.7 254.0 268.9 255.5 270.9 257.0 269.8 258.5 269.5 260.0 270.1 261.5 270.2 263.0 270.1 264.5 270.5 266.0 268.7 267.5 270.4 269.0 269.2 270.5 270.2 272.0 269.4 273.5 268.4 275.0 268.9 276.5 268.0 278.0 269.6 279.5 268.7 281.0 269.5 282.5 268.0 284.0 270.3 285.5 268.9 287.0 270.3 288.5 270.0 290.0 268.3 291.5 269.1 293.0 268.0 294.5 268.3 296.0 268.4 297.5 266.8 299.0 266.1 300.5 263.3 302.0 263.5 303.5 262.7 305.0 262.1 306.5 259.9 308.0 259.0 309.5 256.1 311.0 252.0 312.5 248.6 314.0 241.7 315.5 235.5 317.0 227.6 318.5 216.9 320.0 203.9 321.5 184.1 323.0 162.2 324.5 139.7 326.0 119.9 327.5 108.9 329.0 103.6 330.5 102.4 332.0 109.6 333.5 127.4 335.0 150.0 336.5 160.5 338.0 171.4 339.5 176.5 341.0 181.6 342.5 188.1 344.0 190.0 345.5 193.1 347.0 194.4 348.5 194.9 350.0 195.9 351.5 197.9 353.0 199.2 354.5 197.0 356.0 194.4 357.5 192.1 359.0 188.3 360.5 184.5 362.0 175.3 363.5 168.8 365.0 159.3 366.5 150.0 368.0 139.4 369.5 123.7 371.0 108.2 372.5 97.4 374.0 93.6 375.5 92.3 377.0 95.9 378.5 105.9 380.0 117.0 381.5 130.4 383.0 144.2 384.5 158.2 386.0 167.7 387.5 178.8 389.0 183.0 390.5 191.9 392.0 200.6 393.5 206.0 395.0 209.8 396.5 212.3 398.0 214.3 399.5 218.4 401.0 221.0 402.5 225.8 404.0 228.1 405.5 230.4 407.0 232.2 408.5 234.4 410.0 237.5 411.5 237.1 413.0 238.4 414.5 241.4 416.0 243.5 417.5 243.5 419.0 244.8 420.5 247.0 422.0 248.9 423.5 248.7 425.0 248.5 426.5 251.9 428.0 254.9 429.5 254.3 431.0 256.1 432.5 253.8 434.0 257.5 435.5 258.8 437.0 260.9 438.5 261.5 440.0 262.9 441.5 261.0 443.0 264.2 444.5 261.5 446.0 263.8 447.5 267.1 449.0 267.4 450.5 264.2 452.0 268.4 453.5 267.1 455.0 266.8 456.5 268.4 458.0 268.5 459.5 270.6 461.0 266.5 462.5 268.1 464.0 268.6 465.5 266.1 467.0 270.7 468.5 271.7 470.0 268.3 471.5 270.1 473.0 269.4 474.5 270.5 476.0 269.3 477.5 271.7 479.0 268.9 480.5 272.9 482.0 271.6 483.5 274.8 485.0 268.9 486.5 271.3 488.0 269.7 489.5 271.5 491.0 272.5 492.5 270.6 494.0 269.9 495.5 269.6 497.0 272.6 498.5 274.3 500.0 274.2 501.5 272.6 503.0 271.1 504.5 272.1 506.0 270.5 507.5 270.4 509.0 274.5 510.5 272.5 512.0 273.5 513.5 272.6 515.0 275.1 516.5 275.3 518.0 272.0 519.5 272.7 521.0 272.2 522.5 275.3 524.0 275.2 525.5 272.9 527.0 276.8 528.5 273.5 530.0 271.6 531.5 270.4 533.0 273.3" stroke="#000" stroke-width="2.4" stroke-linecap="round" stroke-dasharray="0 4.2"/>
</g>
<!-- y tick labels -->
<text x="22.75" y="41.8" textLength="19.45" lengthAdjust="spacingAndGlyphs">2.5</text>
<text x="34.78" y="90.0" textLength="8.49" lengthAdjust="spacingAndGlyphs">2</text>
<text x="22.88" y="138.2" textLength="19.01" lengthAdjust="spacingAndGlyphs">1.5</text>
<text x="35.05" y="186.5" textLength="7.19" lengthAdjust="spacingAndGlyphs">1</text>
<text x="22.91" y="235.0" textLength="19.29" lengthAdjust="spacingAndGlyphs">0.5</text>
<text x="35.36" y="283.2" textLength="6.82" lengthAdjust="spacingAndGlyphs">0</text>
<!-- x tick labels -->
<text x="42.61" y="306.6" textLength="32.93" lengthAdjust="spacingAndGlyphs">3000</text>
<text x="138.33" y="306.6" textLength="31.88" lengthAdjust="spacingAndGlyphs">2500</text>
<text x="233.33" y="306.6" textLength="31.88" lengthAdjust="spacingAndGlyphs">2000</text>
<text x="327.70" y="306.6" textLength="32.42" lengthAdjust="spacingAndGlyphs">1500</text>
<text x="422.60" y="306.6" textLength="32.42" lengthAdjust="spacingAndGlyphs">1000</text>
<text x="522.16" y="306.6" textLength="24.31" lengthAdjust="spacingAndGlyphs">500</text>
<text x="215.40" y="327.8" textLength="93.12" lengthAdjust="spacingAndGlyphs">Wavenumber</text>
<text x="314.03" y="327.8" textLength="24.82" lengthAdjust="spacingAndGlyphs">(cm</text>
<text x="340.8" y="321.8" style="font-size:10px" textLength="7.5" lengthAdjust="spacingAndGlyphs">-1</text>
<text x="350.18" y="327.8" textLength="3.38" lengthAdjust="spacingAndGlyphs">)</text>
<text transform="translate(15.8,209.36) rotate(-90)" textLength="102.5" lengthAdjust="spacingAndGlyphs">Intensity (a.u.)</text>
</svg>
</body></html>
